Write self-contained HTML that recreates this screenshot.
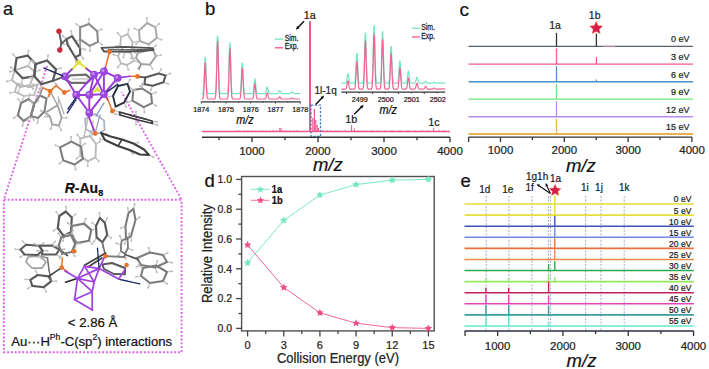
<!DOCTYPE html>
<html><head><meta charset="utf-8"><style>
html,body{margin:0;padding:0;background:#fff;width:709px;height:369px;overflow:hidden}
svg{display:block}
text{font-family:"Liberation Sans", sans-serif}
</style></head><body>
<svg width="709" height="369" viewBox="0 0 709 369">
<rect width="709" height="369" fill="#fff"/>
<text x="3.10" y="14.90" font-size="18.2" text-anchor="start" fill="#111" stroke="#111" stroke-width="0.22" font-weight="normal" font-style="normal" transform="translate(3.10 14.90) scale(1.0 1.02) translate(-3.10 -14.90)" >a</text>
<polyline points="47,66 3.8,199.7 181.6,199.7 121.5,92" fill="none" stroke="#e060e8" stroke-width="1.9" stroke-dasharray="1.9,1.9"/>
<polyline points="3.8,199.7 3.8,352.2 181.6,352.2 181.6,199.7" fill="none" stroke="#e060e8" stroke-width="1.9" stroke-dasharray="1.9,1.9"/>
<line x1="14.16" y1="69.72" x2="11.14" y2="67.41" stroke="#c4c4c4" stroke-width="1.3" stroke-linecap="round" />
<circle cx="10.82" cy="67.17" r="1.05" fill="#bcbcbc"/>
<line x1="28.53" y1="65.27" x2="30.10" y2="61.81" stroke="#c4c4c4" stroke-width="1.3" stroke-linecap="round" />
<circle cx="30.27" cy="61.45" r="1.05" fill="#bcbcbc"/>
<line x1="35.74" y1="71.70" x2="39.27" y2="70.28" stroke="#c4c4c4" stroke-width="1.3" stroke-linecap="round" />
<circle cx="39.64" cy="70.13" r="1.05" fill="#bcbcbc"/>
<line x1="30.50" y1="85.62" x2="32.88" y2="88.59" stroke="#c4c4c4" stroke-width="1.3" stroke-linecap="round" />
<circle cx="33.13" cy="88.90" r="1.05" fill="#bcbcbc"/>
<line x1="19.75" y1="87.76" x2="18.58" y2="91.38" stroke="#c4c4c4" stroke-width="1.3" stroke-linecap="round" />
<circle cx="18.46" cy="91.76" r="1.05" fill="#bcbcbc"/>
<line x1="11.23" y1="80.22" x2="7.58" y2="81.29" stroke="#c4c4c4" stroke-width="1.3" stroke-linecap="round" />
<circle cx="7.20" cy="81.40" r="1.05" fill="#bcbcbc"/>
<polygon points="14.80,70.20 28.20,66.00 35.00,72.00 30.00,85.00 20.00,87.00 12.00,80.00" fill="none" stroke="#b8b8b8" stroke-width="1.85" stroke-linejoin="round"/>
<line x1="16.53" y1="83.26" x2="13.37" y2="81.15" stroke="#c4c4c4" stroke-width="1.3" stroke-linecap="round" />
<circle cx="13.04" cy="80.93" r="1.05" fill="#bcbcbc"/>
<line x1="30.03" y1="86.81" x2="33.05" y2="84.50" stroke="#c4c4c4" stroke-width="1.3" stroke-linecap="round" />
<circle cx="33.37" cy="84.26" r="1.05" fill="#bcbcbc"/>
<line x1="38.63" y1="83.96" x2="42.07" y2="82.36" stroke="#c4c4c4" stroke-width="1.3" stroke-linecap="round" />
<circle cx="42.43" cy="82.19" r="1.05" fill="#bcbcbc"/>
<line x1="34.66" y1="95.45" x2="37.80" y2="97.59" stroke="#c4c4c4" stroke-width="1.3" stroke-linecap="round" />
<circle cx="38.13" cy="97.82" r="1.05" fill="#bcbcbc"/>
<line x1="23.73" y1="96.75" x2="22.45" y2="100.33" stroke="#c4c4c4" stroke-width="1.3" stroke-linecap="round" />
<circle cx="22.31" cy="100.71" r="1.05" fill="#bcbcbc"/>
<line x1="14.22" y1="92.16" x2="10.49" y2="92.91" stroke="#c4c4c4" stroke-width="1.3" stroke-linecap="round" />
<circle cx="10.10" cy="92.99" r="1.05" fill="#bcbcbc"/>
<polygon points="17.20,83.70 29.40,87.30 37.90,84.30 34.00,95.00 24.00,96.00 15.00,92.00" fill="none" stroke="#b8b8b8" stroke-width="1.75" stroke-linejoin="round"/>
<line x1="120.49" y1="36.38" x2="118.06" y2="33.46" stroke="#c4c4c4" stroke-width="1.3" stroke-linecap="round" />
<circle cx="117.81" cy="33.15" r="1.05" fill="#bcbcbc"/>
<line x1="127.93" y1="33.41" x2="128.54" y2="29.66" stroke="#c4c4c4" stroke-width="1.3" stroke-linecap="round" />
<circle cx="128.61" cy="29.27" r="1.05" fill="#bcbcbc"/>
<line x1="133.29" y1="42.27" x2="137.04" y2="41.68" stroke="#c4c4c4" stroke-width="1.3" stroke-linecap="round" />
<circle cx="137.44" cy="41.62" r="1.05" fill="#bcbcbc"/>
<line x1="132.35" y1="49.68" x2="134.99" y2="52.41" stroke="#c4c4c4" stroke-width="1.3" stroke-linecap="round" />
<circle cx="135.27" cy="52.70" r="1.05" fill="#bcbcbc"/>
<line x1="124.24" y1="53.28" x2="123.46" y2="57.00" stroke="#c4c4c4" stroke-width="1.3" stroke-linecap="round" />
<circle cx="123.38" cy="57.39" r="1.05" fill="#bcbcbc"/>
<line x1="119.53" y1="45.32" x2="115.88" y2="46.37" stroke="#c4c4c4" stroke-width="1.3" stroke-linecap="round" />
<circle cx="115.49" cy="46.48" r="1.05" fill="#bcbcbc"/>
<polygon points="121.00,37.00 127.80,34.20 132.50,42.40 131.80,49.10 124.40,52.50 120.30,45.10" fill="none" stroke="#b8b8b8" stroke-width="1.85" stroke-linejoin="round"/>
<line x1="119.84" y1="50.54" x2="117.68" y2="47.42" stroke="#c4c4c4" stroke-width="1.3" stroke-linecap="round" />
<circle cx="117.45" cy="47.09" r="1.05" fill="#bcbcbc"/>
<line x1="131.05" y1="51.92" x2="133.68" y2="49.17" stroke="#c4c4c4" stroke-width="1.3" stroke-linecap="round" />
<circle cx="133.95" cy="48.89" r="1.05" fill="#bcbcbc"/>
<line x1="134.67" y1="60.92" x2="138.32" y2="61.99" stroke="#c4c4c4" stroke-width="1.3" stroke-linecap="round" />
<circle cx="138.70" cy="62.10" r="1.05" fill="#bcbcbc"/>
<line x1="127.21" y1="65.77" x2="128.22" y2="69.44" stroke="#c4c4c4" stroke-width="1.3" stroke-linecap="round" />
<circle cx="128.32" cy="69.82" r="1.05" fill="#bcbcbc"/>
<line x1="120.51" y1="64.03" x2="118.17" y2="67.02" stroke="#c4c4c4" stroke-width="1.3" stroke-linecap="round" />
<circle cx="117.92" cy="67.34" r="1.05" fill="#bcbcbc"/>
<line x1="117.23" y1="55.77" x2="113.59" y2="54.68" stroke="#c4c4c4" stroke-width="1.3" stroke-linecap="round" />
<circle cx="113.21" cy="54.56" r="1.05" fill="#bcbcbc"/>
<polygon points="120.30,51.20 130.50,52.50 133.90,60.70 127.00,65.00 121.00,63.40 118.00,56.00" fill="none" stroke="#b8b8b8" stroke-width="1.85" stroke-linejoin="round"/>
<line x1="138.26" y1="30.10" x2="134.73" y2="28.68" stroke="#c4c4c4" stroke-width="1.3" stroke-linecap="round" />
<circle cx="134.36" cy="28.53" r="1.05" fill="#bcbcbc"/>
<line x1="147.15" y1="22.30" x2="146.93" y2="18.51" stroke="#c4c4c4" stroke-width="1.3" stroke-linecap="round" />
<circle cx="146.91" cy="18.11" r="1.05" fill="#bcbcbc"/>
<line x1="155.89" y1="26.66" x2="158.71" y2="24.11" stroke="#c4c4c4" stroke-width="1.3" stroke-linecap="round" />
<circle cx="159.00" cy="23.84" r="1.05" fill="#bcbcbc"/>
<line x1="157.64" y1="38.11" x2="161.14" y2="39.59" stroke="#c4c4c4" stroke-width="1.3" stroke-linecap="round" />
<circle cx="161.51" cy="39.75" r="1.05" fill="#bcbcbc"/>
<line x1="148.87" y1="45.10" x2="149.23" y2="48.88" stroke="#c4c4c4" stroke-width="1.3" stroke-linecap="round" />
<circle cx="149.27" cy="49.28" r="1.05" fill="#bcbcbc"/>
<line x1="139.20" y1="41.53" x2="136.34" y2="44.03" stroke="#c4c4c4" stroke-width="1.3" stroke-linecap="round" />
<circle cx="136.04" cy="44.29" r="1.05" fill="#bcbcbc"/>
<polygon points="139.00,30.40 147.20,23.10 155.30,27.20 156.90,37.80 148.80,44.30 139.80,41.00" fill="none" stroke="#a8a8a8" stroke-width="1.95" stroke-linejoin="round"/>
<line x1="137.00" y1="52.71" x2="133.68" y2="50.86" stroke="#c4c4c4" stroke-width="1.3" stroke-linecap="round" />
<circle cx="133.33" cy="50.67" r="1.05" fill="#bcbcbc"/>
<line x1="153.12" y1="48.49" x2="155.56" y2="45.58" stroke="#c4c4c4" stroke-width="1.3" stroke-linecap="round" />
<circle cx="155.82" cy="45.28" r="1.05" fill="#bcbcbc"/>
<line x1="156.79" y1="55.89" x2="160.56" y2="55.36" stroke="#c4c4c4" stroke-width="1.3" stroke-linecap="round" />
<circle cx="160.95" cy="55.31" r="1.05" fill="#bcbcbc"/>
<line x1="150.32" y1="65.28" x2="152.29" y2="68.53" stroke="#c4c4c4" stroke-width="1.3" stroke-linecap="round" />
<circle cx="152.50" cy="68.87" r="1.05" fill="#bcbcbc"/>
<line x1="140.65" y1="64.66" x2="138.51" y2="67.80" stroke="#c4c4c4" stroke-width="1.3" stroke-linecap="round" />
<circle cx="138.29" cy="68.13" r="1.05" fill="#bcbcbc"/>
<line x1="135.20" y1="58.04" x2="131.41" y2="58.26" stroke="#c4c4c4" stroke-width="1.3" stroke-linecap="round" />
<circle cx="131.01" cy="58.28" r="1.05" fill="#bcbcbc"/>
<polygon points="137.70,53.10 152.60,49.10 156.00,56.00 149.90,64.60 141.10,64.00 136.00,58.00" fill="none" stroke="#a0a0a0" stroke-width="1.85" stroke-linejoin="round"/>
<polygon points="85.00,119.00 95.00,114.00 104.00,120.40 104.60,130.00 95.00,135.00 86.00,129.00" fill="none" stroke="#a8b2c8" stroke-width="1.75" stroke-linejoin="round"/>
<line x1="79.81" y1="137.77" x2="77.48" y2="134.77" stroke="#c4c4c4" stroke-width="1.3" stroke-linecap="round" />
<circle cx="77.23" cy="134.45" r="1.05" fill="#bcbcbc"/>
<line x1="90.10" y1="135.21" x2="90.60" y2="131.44" stroke="#c4c4c4" stroke-width="1.3" stroke-linecap="round" />
<circle cx="90.65" cy="131.04" r="1.05" fill="#bcbcbc"/>
<line x1="96.68" y1="143.58" x2="99.91" y2="141.58" stroke="#c4c4c4" stroke-width="1.3" stroke-linecap="round" />
<circle cx="100.25" cy="141.37" r="1.05" fill="#bcbcbc"/>
<line x1="96.01" y1="158.02" x2="98.43" y2="160.94" stroke="#c4c4c4" stroke-width="1.3" stroke-linecap="round" />
<circle cx="98.69" cy="161.25" r="1.05" fill="#bcbcbc"/>
<line x1="87.87" y1="162.00" x2="87.74" y2="165.80" stroke="#c4c4c4" stroke-width="1.3" stroke-linecap="round" />
<circle cx="87.73" cy="166.20" r="1.05" fill="#bcbcbc"/>
<line x1="79.69" y1="156.01" x2="76.78" y2="158.46" stroke="#c4c4c4" stroke-width="1.3" stroke-linecap="round" />
<circle cx="76.47" cy="158.72" r="1.05" fill="#bcbcbc"/>
<polygon points="80.30,138.40 90.00,136.00 96.00,144.00 95.50,157.40 87.90,161.20 80.30,155.50" fill="none" stroke="#b8b8b8" stroke-width="1.85" stroke-linejoin="round"/>
<line x1="88.40" y1="115.70" x2="84.00" y2="137.00" stroke="#b8b8b8" stroke-width="1.4" stroke-linecap="round" />
<line x1="93.00" y1="120.00" x2="92.00" y2="136.00" stroke="#c0c0c0" stroke-width="1.3" stroke-linecap="round" />
<line x1="57.71" y1="104.53" x2="58.72" y2="100.87" stroke="#c4c4c4" stroke-width="1.3" stroke-linecap="round" />
<circle cx="58.83" cy="100.48" r="1.05" fill="#bcbcbc"/>
<line x1="62.40" y1="117.55" x2="66.19" y2="117.77" stroke="#c4c4c4" stroke-width="1.3" stroke-linecap="round" />
<circle cx="66.59" cy="117.79" r="1.05" fill="#bcbcbc"/>
<line x1="59.28" y1="126.40" x2="61.08" y2="129.75" stroke="#c4c4c4" stroke-width="1.3" stroke-linecap="round" />
<circle cx="61.27" cy="130.10" r="1.05" fill="#bcbcbc"/>
<line x1="51.87" y1="125.07" x2="50.79" y2="128.71" stroke="#c4c4c4" stroke-width="1.3" stroke-linecap="round" />
<circle cx="50.68" cy="129.09" r="1.05" fill="#bcbcbc"/>
<line x1="49.30" y1="116.75" x2="45.51" y2="116.51" stroke="#c4c4c4" stroke-width="1.3" stroke-linecap="round" />
<circle cx="45.11" cy="116.48" r="1.05" fill="#bcbcbc"/>
<line x1="44.58" y1="112.46" x2="41.15" y2="110.82" stroke="#c4c4c4" stroke-width="1.3" stroke-linecap="round" />
<circle cx="40.79" cy="110.65" r="1.05" fill="#bcbcbc"/>
<polygon points="57.50,105.30 61.60,117.50 58.90,125.70 52.10,124.30 50.10,116.80 45.30,112.80" fill="none" stroke="#a0a0a0" stroke-width="1.85" stroke-linejoin="round"/>
<line x1="20.62" y1="102.46" x2="18.37" y2="99.40" stroke="#c4c4c4" stroke-width="1.3" stroke-linecap="round" />
<circle cx="18.13" cy="99.08" r="1.05" fill="#bcbcbc"/>
<line x1="28.68" y1="98.32" x2="29.54" y2="94.62" stroke="#c4c4c4" stroke-width="1.3" stroke-linecap="round" />
<circle cx="29.64" cy="94.23" r="1.05" fill="#bcbcbc"/>
<line x1="34.75" y1="103.43" x2="37.83" y2="101.20" stroke="#c4c4c4" stroke-width="1.3" stroke-linecap="round" />
<circle cx="38.15" cy="100.97" r="1.05" fill="#bcbcbc"/>
<line x1="31.39" y1="116.73" x2="33.70" y2="119.75" stroke="#c4c4c4" stroke-width="1.3" stroke-linecap="round" />
<circle cx="33.95" cy="120.06" r="1.05" fill="#bcbcbc"/>
<line x1="23.43" y1="121.78" x2="22.63" y2="125.50" stroke="#c4c4c4" stroke-width="1.3" stroke-linecap="round" />
<circle cx="22.55" cy="125.89" r="1.05" fill="#bcbcbc"/>
<line x1="17.24" y1="115.75" x2="14.10" y2="117.90" stroke="#c4c4c4" stroke-width="1.3" stroke-linecap="round" />
<circle cx="13.77" cy="118.12" r="1.05" fill="#bcbcbc"/>
<polygon points="21.10,103.10 28.50,99.10 34.10,103.90 30.90,116.10 23.60,121.00 17.90,115.30" fill="none" stroke="#7c7c7c" stroke-width="2.15" stroke-linejoin="round"/>
<line x1="33.44" y1="103.45" x2="30.30" y2="101.30" stroke="#c4c4c4" stroke-width="1.3" stroke-linecap="round" />
<circle cx="29.97" cy="101.08" r="1.05" fill="#bcbcbc"/>
<line x1="40.07" y1="94.70" x2="40.39" y2="90.92" stroke="#c4c4c4" stroke-width="1.3" stroke-linecap="round" />
<circle cx="40.42" cy="90.52" r="1.05" fill="#bcbcbc"/>
<line x1="47.02" y1="97.89" x2="49.49" y2="95.01" stroke="#c4c4c4" stroke-width="1.3" stroke-linecap="round" />
<circle cx="49.75" cy="94.70" r="1.05" fill="#bcbcbc"/>
<line x1="45.13" y1="111.99" x2="48.14" y2="114.31" stroke="#c4c4c4" stroke-width="1.3" stroke-linecap="round" />
<circle cx="48.46" cy="114.56" r="1.05" fill="#bcbcbc"/>
<line x1="37.93" y1="118.80" x2="37.57" y2="122.58" stroke="#c4c4c4" stroke-width="1.3" stroke-linecap="round" />
<circle cx="37.54" cy="122.98" r="1.05" fill="#bcbcbc"/>
<line x1="30.36" y1="116.69" x2="27.79" y2="119.49" stroke="#c4c4c4" stroke-width="1.3" stroke-linecap="round" />
<circle cx="27.52" cy="119.79" r="1.05" fill="#bcbcbc"/>
<polygon points="34.10,103.90 40.00,95.50 46.50,98.50 44.50,111.50 38.00,118.00 30.90,116.10" fill="none" stroke="#808080" stroke-width="2.05" stroke-linejoin="round"/>
<line x1="40.00" y1="95.50" x2="42.60" y2="87.70" stroke="#909090" stroke-width="1.5" stroke-linecap="round" />
<line x1="50.10" y1="91.10" x2="57.50" y2="105.30" stroke="#a0a0a0" stroke-width="1.4" stroke-linecap="round" />
<line x1="58.00" y1="97.00" x2="64.00" y2="114.00" stroke="#b0b0b0" stroke-width="1.3" stroke-linecap="round" />
<line x1="16.05" y1="57.42" x2="13.42" y2="54.67" stroke="#c4c4c4" stroke-width="1.3" stroke-linecap="round" />
<circle cx="13.15" cy="54.38" r="1.05" fill="#bcbcbc"/>
<line x1="27.76" y1="54.82" x2="28.52" y2="51.09" stroke="#c4c4c4" stroke-width="1.3" stroke-linecap="round" />
<circle cx="28.60" cy="50.70" r="1.05" fill="#bcbcbc"/>
<line x1="36.27" y1="63.88" x2="39.92" y2="62.82" stroke="#c4c4c4" stroke-width="1.3" stroke-linecap="round" />
<circle cx="40.30" cy="62.71" r="1.05" fill="#bcbcbc"/>
<line x1="34.86" y1="76.87" x2="37.52" y2="79.59" stroke="#c4c4c4" stroke-width="1.3" stroke-linecap="round" />
<circle cx="37.80" cy="79.87" r="1.05" fill="#bcbcbc"/>
<line x1="22.52" y1="78.98" x2="21.67" y2="82.68" stroke="#c4c4c4" stroke-width="1.3" stroke-linecap="round" />
<circle cx="21.58" cy="83.07" r="1.05" fill="#bcbcbc"/>
<line x1="14.03" y1="70.43" x2="10.39" y2="71.52" stroke="#c4c4c4" stroke-width="1.3" stroke-linecap="round" />
<circle cx="10.01" cy="71.64" r="1.05" fill="#bcbcbc"/>
<polygon points="16.60,58.00 27.60,55.60 35.50,64.10 34.30,76.30 22.70,78.20 14.80,70.20" fill="none" stroke="#5a5a5a" stroke-width="2.25" stroke-linejoin="round"/>
<line x1="34.92" y1="63.55" x2="32.14" y2="60.96" stroke="#c4c4c4" stroke-width="1.3" stroke-linecap="round" />
<circle cx="31.85" cy="60.68" r="1.05" fill="#bcbcbc"/>
<line x1="47.27" y1="59.72" x2="48.05" y2="56.00" stroke="#c4c4c4" stroke-width="1.3" stroke-linecap="round" />
<circle cx="48.13" cy="55.61" r="1.05" fill="#bcbcbc"/>
<line x1="56.77" y1="69.19" x2="60.43" y2="68.17" stroke="#c4c4c4" stroke-width="1.3" stroke-linecap="round" />
<circle cx="60.82" cy="68.07" r="1.05" fill="#bcbcbc"/>
<line x1="53.37" y1="81.37" x2="56.06" y2="84.05" stroke="#c4c4c4" stroke-width="1.3" stroke-linecap="round" />
<circle cx="56.34" cy="84.33" r="1.05" fill="#bcbcbc"/>
<line x1="41.40" y1="85.08" x2="40.48" y2="88.76" stroke="#c4c4c4" stroke-width="1.3" stroke-linecap="round" />
<circle cx="40.38" cy="89.15" r="1.05" fill="#bcbcbc"/>
<line x1="33.55" y1="76.57" x2="29.98" y2="77.87" stroke="#c4c4c4" stroke-width="1.3" stroke-linecap="round" />
<circle cx="29.60" cy="78.01" r="1.05" fill="#bcbcbc"/>
<polygon points="35.50,64.10 47.10,60.50 56.00,69.40 52.80,80.80 41.60,84.30 34.30,76.30" fill="none" stroke="#5a5a5a" stroke-width="2.25" stroke-linejoin="round"/>
<line x1="52.80" y1="80.80" x2="64.90" y2="76.30" stroke="#5a5a5a" stroke-width="1.8" stroke-linecap="round" />
<line x1="79.50" y1="26.68" x2="76.62" y2="24.19" stroke="#c4c4c4" stroke-width="1.3" stroke-linecap="round" />
<circle cx="76.32" cy="23.93" r="1.05" fill="#bcbcbc"/>
<line x1="89.00" y1="23.20" x2="88.99" y2="19.40" stroke="#c4c4c4" stroke-width="1.3" stroke-linecap="round" />
<circle cx="88.98" cy="19.00" r="1.05" fill="#bcbcbc"/>
<line x1="97.93" y1="30.97" x2="101.40" y2="29.43" stroke="#c4c4c4" stroke-width="1.3" stroke-linecap="round" />
<circle cx="101.77" cy="29.27" r="1.05" fill="#bcbcbc"/>
<line x1="98.64" y1="42.29" x2="101.65" y2="44.60" stroke="#c4c4c4" stroke-width="1.3" stroke-linecap="round" />
<circle cx="101.97" cy="44.84" r="1.05" fill="#bcbcbc"/>
<line x1="89.86" y1="46.70" x2="90.12" y2="50.49" stroke="#c4c4c4" stroke-width="1.3" stroke-linecap="round" />
<circle cx="90.15" cy="50.89" r="1.05" fill="#bcbcbc"/>
<line x1="79.38" y1="39.76" x2="75.99" y2="41.46" stroke="#c4c4c4" stroke-width="1.3" stroke-linecap="round" />
<circle cx="75.63" cy="41.64" r="1.05" fill="#bcbcbc"/>
<polygon points="80.10,27.20 89.00,24.00 97.20,31.30 98.00,41.80 89.80,45.90 80.10,39.40" fill="none" stroke="#8a8a8a" stroke-width="2.05" stroke-linejoin="round"/>
<line x1="65.74" y1="38.83" x2="63.08" y2="36.12" stroke="#c4c4c4" stroke-width="1.3" stroke-linecap="round" />
<circle cx="62.80" cy="35.83" r="1.05" fill="#bcbcbc"/>
<line x1="71.88" y1="35.31" x2="71.32" y2="31.55" stroke="#c4c4c4" stroke-width="1.3" stroke-linecap="round" />
<circle cx="71.26" cy="31.15" r="1.05" fill="#bcbcbc"/>
<line x1="80.88" y1="48.48" x2="84.59" y2="49.31" stroke="#c4c4c4" stroke-width="1.3" stroke-linecap="round" />
<circle cx="84.98" cy="49.40" r="1.05" fill="#bcbcbc"/>
<line x1="80.61" y1="55.42" x2="83.01" y2="58.36" stroke="#c4c4c4" stroke-width="1.3" stroke-linecap="round" />
<circle cx="83.26" cy="58.67" r="1.05" fill="#bcbcbc"/>
<line x1="75.32" y1="58.09" x2="75.90" y2="61.85" stroke="#c4c4c4" stroke-width="1.3" stroke-linecap="round" />
<circle cx="75.96" cy="62.24" r="1.05" fill="#bcbcbc"/>
<line x1="67.13" y1="44.87" x2="63.50" y2="43.76" stroke="#c4c4c4" stroke-width="1.3" stroke-linecap="round" />
<circle cx="63.12" cy="43.65" r="1.05" fill="#bcbcbc"/>
<polygon points="66.30,39.40 72.00,36.10 80.10,48.30 80.10,54.80 75.20,57.30 67.90,45.10" fill="none" stroke="#5a5a5a" stroke-width="2.15" stroke-linejoin="round"/>
<line x1="80.10" y1="48.30" x2="80.10" y2="39.40" stroke="#8a8a8a" stroke-width="1.6" stroke-linecap="round" />
<line x1="66.30" y1="39.40" x2="61.40" y2="43.50" stroke="#5a5a5a" stroke-width="1.8" stroke-linecap="round" />
<line x1="61.40" y1="43.50" x2="59.00" y2="31.30" stroke="#5a5a5a" stroke-width="1.8" stroke-linecap="round" />
<line x1="61.40" y1="43.50" x2="59.80" y2="50.00" stroke="#5a5a5a" stroke-width="1.8" stroke-linecap="round" />
<circle cx="59.00" cy="31.30" r="2.7" fill="#c8283a"/>
<circle cx="59.80" cy="50.00" r="2.7" fill="#c8283a"/>
<line x1="75.20" y1="57.30" x2="78.70" y2="62.40" stroke="#5a5a5a" stroke-width="1.8" stroke-linecap="round" />
<polygon points="101.40,47.80 125.00,46.80 152.60,48.20 153.50,50.00 130.00,51.50 104.00,51.50" fill="none" stroke="#505050" stroke-width="1.85" stroke-linejoin="round"/>
<line x1="108.00" y1="49.50" x2="150.00" y2="49.50" stroke="#666" stroke-width="1.0" stroke-linecap="round" />
<line x1="144.42" y1="77.32" x2="140.72" y2="76.45" stroke="#c4c4c4" stroke-width="1.3" stroke-linecap="round" />
<circle cx="140.33" cy="76.36" r="1.05" fill="#bcbcbc"/>
<line x1="159.11" y1="72.81" x2="161.03" y2="69.53" stroke="#c4c4c4" stroke-width="1.3" stroke-linecap="round" />
<circle cx="161.23" cy="69.19" r="1.05" fill="#bcbcbc"/>
<line x1="166.24" y1="75.20" x2="169.76" y2="73.76" stroke="#c4c4c4" stroke-width="1.3" stroke-linecap="round" />
<circle cx="170.13" cy="73.61" r="1.05" fill="#bcbcbc"/>
<line x1="164.27" y1="82.53" x2="167.91" y2="83.60" stroke="#c4c4c4" stroke-width="1.3" stroke-linecap="round" />
<circle cx="168.30" cy="83.71" r="1.05" fill="#bcbcbc"/>
<line x1="152.30" y1="86.44" x2="150.87" y2="89.96" stroke="#c4c4c4" stroke-width="1.3" stroke-linecap="round" />
<circle cx="150.72" cy="90.33" r="1.05" fill="#bcbcbc"/>
<line x1="143.76" y1="84.62" x2="140.27" y2="86.11" stroke="#c4c4c4" stroke-width="1.3" stroke-linecap="round" />
<circle cx="139.90" cy="86.27" r="1.05" fill="#bcbcbc"/>
<polygon points="145.20,77.50 158.70,73.50 165.50,75.50 163.50,82.30 152.60,85.70 144.50,84.30" fill="none" stroke="#5a5a5a" stroke-width="2.15" stroke-linejoin="round"/>
<line x1="137.70" y1="76.80" x2="145.20" y2="77.50" stroke="#454545" stroke-width="1.6" stroke-linecap="round" />
<line x1="139.00" y1="69.40" x2="141.10" y2="64.00" stroke="#909090" stroke-width="1.5" stroke-linecap="round" />
<line x1="132.67" y1="89.50" x2="129.70" y2="87.14" stroke="#c4c4c4" stroke-width="1.3" stroke-linecap="round" />
<circle cx="129.38" cy="86.89" r="1.05" fill="#bcbcbc"/>
<line x1="142.18" y1="87.70" x2="142.06" y2="83.90" stroke="#c4c4c4" stroke-width="1.3" stroke-linecap="round" />
<circle cx="142.05" cy="83.50" r="1.05" fill="#bcbcbc"/>
<line x1="151.85" y1="93.82" x2="155.42" y2="92.52" stroke="#c4c4c4" stroke-width="1.3" stroke-linecap="round" />
<circle cx="155.79" cy="92.38" r="1.05" fill="#bcbcbc"/>
<line x1="152.68" y1="103.52" x2="155.92" y2="105.50" stroke="#c4c4c4" stroke-width="1.3" stroke-linecap="round" />
<circle cx="156.26" cy="105.71" r="1.05" fill="#bcbcbc"/>
<line x1="143.91" y1="107.99" x2="144.41" y2="111.76" stroke="#c4c4c4" stroke-width="1.3" stroke-linecap="round" />
<circle cx="144.47" cy="112.16" r="1.05" fill="#bcbcbc"/>
<line x1="131.64" y1="100.96" x2="128.05" y2="102.18" stroke="#c4c4c4" stroke-width="1.3" stroke-linecap="round" />
<circle cx="127.67" cy="102.31" r="1.05" fill="#bcbcbc"/>
<polygon points="133.30,90.00 142.20,88.50 151.10,94.10 152.00,103.10 143.80,107.20 132.40,100.70" fill="none" stroke="#7c7c7c" stroke-width="2.05" stroke-linejoin="round"/>
<line x1="59.28" y1="147.05" x2="55.85" y2="145.42" stroke="#c4c4c4" stroke-width="1.3" stroke-linecap="round" />
<circle cx="55.49" cy="145.24" r="1.05" fill="#bcbcbc"/>
<line x1="71.34" y1="140.90" x2="71.08" y2="137.11" stroke="#c4c4c4" stroke-width="1.3" stroke-linecap="round" />
<circle cx="71.05" cy="136.71" r="1.05" fill="#bcbcbc"/>
<line x1="81.74" y1="146.12" x2="84.79" y2="143.85" stroke="#c4c4c4" stroke-width="1.3" stroke-linecap="round" />
<circle cx="85.11" cy="143.61" r="1.05" fill="#bcbcbc"/>
<line x1="83.51" y1="159.17" x2="86.87" y2="160.94" stroke="#c4c4c4" stroke-width="1.3" stroke-linecap="round" />
<circle cx="87.23" cy="161.12" r="1.05" fill="#bcbcbc"/>
<line x1="74.77" y1="165.28" x2="75.56" y2="169.00" stroke="#c4c4c4" stroke-width="1.3" stroke-linecap="round" />
<circle cx="75.64" cy="169.39" r="1.05" fill="#bcbcbc"/>
<line x1="62.68" y1="160.90" x2="59.72" y2="163.29" stroke="#c4c4c4" stroke-width="1.3" stroke-linecap="round" />
<circle cx="59.41" cy="163.54" r="1.05" fill="#bcbcbc"/>
<polygon points="60.00,147.40 71.40,141.70 81.10,146.60 82.80,158.80 74.60,164.50 63.30,160.40" fill="none" stroke="#7c7c7c" stroke-width="2.05" stroke-linejoin="round"/>
<line x1="118.74" y1="111.94" x2="115.16" y2="110.69" stroke="#c4c4c4" stroke-width="1.3" stroke-linecap="round" />
<circle cx="114.78" cy="110.55" r="1.05" fill="#bcbcbc"/>
<line x1="136.00" y1="115.70" x2="136.00" y2="111.90" stroke="#c4c4c4" stroke-width="1.3" stroke-linecap="round" />
<circle cx="136.00" cy="111.50" r="1.05" fill="#bcbcbc"/>
<line x1="152.79" y1="121.15" x2="156.52" y2="121.86" stroke="#c4c4c4" stroke-width="1.3" stroke-linecap="round" />
<circle cx="156.91" cy="121.94" r="1.05" fill="#bcbcbc"/>
<line x1="153.26" y1="123.76" x2="156.86" y2="124.97" stroke="#c4c4c4" stroke-width="1.3" stroke-linecap="round" />
<circle cx="157.24" cy="125.09" r="1.05" fill="#bcbcbc"/>
<line x1="136.00" y1="120.30" x2="136.00" y2="124.10" stroke="#c4c4c4" stroke-width="1.3" stroke-linecap="round" />
<circle cx="136.00" cy="124.50" r="1.05" fill="#bcbcbc"/>
<line x1="119.21" y1="114.85" x2="115.48" y2="114.17" stroke="#c4c4c4" stroke-width="1.3" stroke-linecap="round" />
<circle cx="115.08" cy="114.09" r="1.05" fill="#bcbcbc"/>
<polygon points="119.50,112.20 136.00,116.50 152.00,121.00 152.50,123.50 136.00,119.50 120.00,115.00" fill="none" stroke="#3a3a3a" stroke-width="1.75" stroke-linejoin="round"/>
<line x1="117.70" y1="85.26" x2="116.27" y2="81.74" stroke="#c4c4c4" stroke-width="1.3" stroke-linecap="round" />
<circle cx="116.12" cy="81.37" r="1.05" fill="#bcbcbc"/>
<line x1="127.90" y1="83.21" x2="129.81" y2="79.92" stroke="#c4c4c4" stroke-width="1.3" stroke-linecap="round" />
<circle cx="130.01" cy="79.58" r="1.05" fill="#bcbcbc"/>
<line x1="130.76" y1="91.25" x2="134.36" y2="90.04" stroke="#c4c4c4" stroke-width="1.3" stroke-linecap="round" />
<circle cx="134.74" cy="89.91" r="1.05" fill="#bcbcbc"/>
<line x1="124.58" y1="103.05" x2="125.88" y2="106.62" stroke="#c4c4c4" stroke-width="1.3" stroke-linecap="round" />
<circle cx="126.02" cy="106.99" r="1.05" fill="#bcbcbc"/>
<line x1="115.26" y1="107.32" x2="113.63" y2="110.76" stroke="#c4c4c4" stroke-width="1.3" stroke-linecap="round" />
<circle cx="113.46" cy="111.12" r="1.05" fill="#bcbcbc"/>
<line x1="112.21" y1="96.15" x2="108.48" y2="96.87" stroke="#c4c4c4" stroke-width="1.3" stroke-linecap="round" />
<circle cx="108.09" cy="96.94" r="1.05" fill="#bcbcbc"/>
<polygon points="118.00,86.00 127.50,83.90 130.00,91.50 124.30,102.30 115.60,106.60 113.00,96.00" fill="none" stroke="#283040" stroke-width="1.85" stroke-linejoin="round"/>
<line x1="110.01" y1="136.10" x2="106.71" y2="134.21" stroke="#c0c0c0" stroke-width="1.3" stroke-linecap="round" />
<circle cx="106.36" cy="134.01" r="1.05" fill="#bcbcbc"/>
<line x1="134.19" y1="143.35" x2="137.92" y2="142.64" stroke="#c0c0c0" stroke-width="1.3" stroke-linecap="round" />
<circle cx="138.31" cy="142.56" r="1.05" fill="#bcbcbc"/>
<line x1="149.74" y1="155.31" x2="153.23" y2="156.80" stroke="#c0c0c0" stroke-width="1.3" stroke-linecap="round" />
<circle cx="153.60" cy="156.96" r="1.05" fill="#bcbcbc"/>
<line x1="130.10" y1="150.62" x2="132.50" y2="153.57" stroke="#c0c0c0" stroke-width="1.3" stroke-linecap="round" />
<circle cx="132.75" cy="153.88" r="1.05" fill="#bcbcbc"/>
<line x1="104.22" y1="139.81" x2="100.53" y2="138.91" stroke="#c0c0c0" stroke-width="1.3" stroke-linecap="round" />
<circle cx="100.14" cy="138.82" r="1.05" fill="#bcbcbc"/>
<polygon points="101.00,133.00 110.70,136.50 122.00,139.50 133.40,143.50 144.00,149.50 149.00,155.00 140.00,154.50 129.60,150.00 118.00,146.00 105.00,140.00" fill="none" stroke="#3e3e3e" stroke-width="2.05" stroke-linejoin="round"/>
<line x1="122.00" y1="139.50" x2="118.00" y2="146.00" stroke="#3e3e3e" stroke-width="1.5" stroke-linecap="round" />
<polygon points="66.00,80.00 70.00,75.40 86.00,74.60 91.00,79.00 87.00,82.80 71.00,82.80" fill="none" stroke="#707070" stroke-width="2.25" stroke-linejoin="round"/>
<line x1="72.00" y1="79.00" x2="88.00" y2="79.00" stroke="#b0b0b0" stroke-width="1.2" stroke-linecap="round" />
<line x1="42.60" y1="87.70" x2="50.10" y2="91.10" stroke="#e8742a" stroke-width="1.6" stroke-linecap="round" />
<line x1="50.10" y1="91.10" x2="56.20" y2="85.70" stroke="#e8742a" stroke-width="1.6" stroke-linecap="round" />
<line x1="56.20" y1="85.70" x2="64.30" y2="92.50" stroke="#e8742a" stroke-width="1.6" stroke-linecap="round" />
<line x1="64.30" y1="92.50" x2="69.70" y2="90.40" stroke="#e8742a" stroke-width="1.6" stroke-linecap="round" />
<line x1="50.10" y1="91.10" x2="48.70" y2="96.50" stroke="#e8742a" stroke-width="1.6" stroke-linecap="round" />
<line x1="109.50" y1="51.80" x2="105.40" y2="67.40" stroke="#e8742a" stroke-width="1.6" stroke-linecap="round" />
<line x1="105.40" y1="67.40" x2="103.90" y2="71.40" stroke="#9a38d8" stroke-width="1.8" stroke-linecap="round" />
<line x1="130.00" y1="76.30" x2="137.30" y2="76.30" stroke="#e8742a" stroke-width="1.6" stroke-linecap="round" />
<line x1="117.70" y1="77.90" x2="130.00" y2="76.30" stroke="#9a38d8" stroke-width="1.6" stroke-linecap="round" />
<line x1="88.40" y1="115.70" x2="95.20" y2="133.30" stroke="#9a38d8" stroke-width="1.8" stroke-linecap="round" />
<line x1="104.00" y1="103.00" x2="96.00" y2="116.00" stroke="#8090c0" stroke-width="1.3" stroke-linecap="round" />
<line x1="103.90" y1="94.10" x2="108.00" y2="100.00" stroke="#c8283a" stroke-width="1.5" stroke-linecap="round" />
<line x1="108.00" y1="100.00" x2="112.40" y2="111.00" stroke="#e8742a" stroke-width="1.5" stroke-linecap="round" />
<line x1="95.00" y1="133.60" x2="100.00" y2="115.00" stroke="#9aa4c0" stroke-width="1.3" stroke-linecap="round" />
<line x1="130.00" y1="115.30" x2="146.30" y2="119.30" stroke="#454545" stroke-width="1.6" stroke-linecap="round" />
<line x1="78.70" y1="62.40" x2="71.80" y2="69.40" stroke="#dfe040" stroke-width="2.2" stroke-linecap="round" />
<line x1="78.70" y1="62.40" x2="86.40" y2="68.50" stroke="#dfe040" stroke-width="2.2" stroke-linecap="round" />
<line x1="71.80" y1="69.40" x2="64.90" y2="76.30" stroke="#9a38d8" stroke-width="2.0" stroke-linecap="round" />
<line x1="86.40" y1="68.50" x2="94.10" y2="74.60" stroke="#9a38d8" stroke-width="2.0" stroke-linecap="round" />
<line x1="97.40" y1="89.30" x2="93.30" y2="92.20" stroke="#dfe040" stroke-width="2.0" stroke-linecap="round" />
<line x1="97.40" y1="89.30" x2="100.60" y2="91.70" stroke="#dfe040" stroke-width="2.0" stroke-linecap="round" />
<line x1="64.90" y1="76.30" x2="76.30" y2="95.00" stroke="#9a38d8" stroke-width="1.9" stroke-linecap="round" />
<line x1="94.10" y1="74.60" x2="76.30" y2="95.00" stroke="#9a38d8" stroke-width="1.9" stroke-linecap="round" />
<line x1="94.10" y1="74.60" x2="89.30" y2="95.00" stroke="#9a38d8" stroke-width="1.9" stroke-linecap="round" />
<line x1="103.90" y1="71.40" x2="117.70" y2="77.90" stroke="#9a38d8" stroke-width="1.9" stroke-linecap="round" />
<line x1="117.70" y1="77.90" x2="103.90" y2="94.10" stroke="#9a38d8" stroke-width="1.9" stroke-linecap="round" />
<line x1="103.90" y1="94.10" x2="89.30" y2="112.80" stroke="#9a38d8" stroke-width="1.9" stroke-linecap="round" />
<line x1="76.30" y1="95.00" x2="89.30" y2="112.80" stroke="#9a38d8" stroke-width="1.9" stroke-linecap="round" />
<line x1="89.30" y1="95.00" x2="89.30" y2="112.80" stroke="#9a38d8" stroke-width="1.9" stroke-linecap="round" />
<line x1="76.30" y1="95.00" x2="89.30" y2="95.00" stroke="#9a38d8" stroke-width="1.9" stroke-linecap="round" />
<line x1="89.30" y1="95.00" x2="103.90" y2="94.10" stroke="#9a38d8" stroke-width="1.9" stroke-linecap="round" />
<line x1="94.10" y1="74.60" x2="103.90" y2="94.10" stroke="#9a38d8" stroke-width="1.9" stroke-linecap="round" />
<line x1="103.90" y1="71.40" x2="103.90" y2="94.10" stroke="#9a38d8" stroke-width="1.9" stroke-linecap="round" />
<line x1="94.10" y1="74.60" x2="103.90" y2="71.40" stroke="#9a38d8" stroke-width="1.9" stroke-linecap="round" />
<line x1="103.90" y1="71.40" x2="89.30" y2="95.00" stroke="#9a38d8" stroke-width="1.9" stroke-linecap="round" />
<circle cx="64.90" cy="76.30" r="3.9" fill="#9c44dc"/>
<circle cx="94.10" cy="74.60" r="3.9" fill="#9c44dc"/>
<circle cx="103.90" cy="71.40" r="3.9" fill="#9c44dc"/>
<circle cx="117.70" cy="77.90" r="3.9" fill="#9c44dc"/>
<circle cx="76.30" cy="95.00" r="3.9" fill="#9c44dc"/>
<circle cx="89.30" cy="95.00" r="3.9" fill="#9c44dc"/>
<circle cx="103.90" cy="94.10" r="3.9" fill="#9c44dc"/>
<circle cx="89.30" cy="112.80" r="3.9" fill="#9c44dc"/>
<circle cx="63.90" cy="75.30" r="1.5" fill="#c090ee"/>
<circle cx="93.10" cy="73.60" r="1.5" fill="#c090ee"/>
<circle cx="102.90" cy="70.40" r="1.5" fill="#c090ee"/>
<circle cx="116.70" cy="76.90" r="1.5" fill="#c090ee"/>
<circle cx="75.30" cy="94.00" r="1.5" fill="#c090ee"/>
<circle cx="88.30" cy="94.00" r="1.5" fill="#c090ee"/>
<circle cx="102.90" cy="93.10" r="1.5" fill="#c090ee"/>
<circle cx="88.30" cy="111.80" r="1.5" fill="#c090ee"/>
<circle cx="78.70" cy="62.40" r="2.4" fill="#dfe040"/>
<circle cx="97.40" cy="89.30" r="2.2" fill="#dfe040"/>
<circle cx="109.50" cy="51.80" r="2.4" fill="#e8742a"/>
<circle cx="137.50" cy="76.50" r="2.4" fill="#e8742a"/>
<circle cx="50.10" cy="91.10" r="2.4" fill="#e8742a"/>
<circle cx="64.30" cy="92.50" r="2.4" fill="#e8742a"/>
<circle cx="112.40" cy="111.00" r="2.4" fill="#e8742a"/>
<circle cx="95.20" cy="133.30" r="2.4" fill="#e8742a"/>
<line x1="44.00" y1="68.00" x2="63.00" y2="76.00" stroke="#1e2a66" stroke-width="1.5" stroke-linecap="round" stroke-dasharray="1.3,1.1"/>
<line x1="68.00" y1="108.80" x2="76.30" y2="97.40" stroke="#1e2a66" stroke-width="1.5" stroke-linecap="round" stroke-dasharray="1.3,1.1"/>
<line x1="107.20" y1="91.70" x2="117.70" y2="84.40" stroke="#1e2a66" stroke-width="1.5" stroke-linecap="round" stroke-dasharray="1.3,1.1"/>
<line x1="75.90" y1="99.80" x2="67.30" y2="113.00" stroke="#1e2a66" stroke-width="1.5" stroke-linecap="round" stroke-dasharray="1.3,1.1"/>
<line x1="29.50" y1="279.72" x2="25.73" y2="279.31" stroke="#c4c4c4" stroke-width="1.3" stroke-linecap="round" />
<circle cx="25.33" cy="279.27" r="1.05" fill="#bcbcbc"/>
<line x1="37.34" y1="274.29" x2="35.63" y2="270.89" stroke="#c4c4c4" stroke-width="1.3" stroke-linecap="round" />
<circle cx="35.45" cy="270.53" r="1.05" fill="#bcbcbc"/>
<line x1="49.30" y1="276.01" x2="52.60" y2="274.13" stroke="#c4c4c4" stroke-width="1.3" stroke-linecap="round" />
<circle cx="52.95" cy="273.93" r="1.05" fill="#bcbcbc"/>
<line x1="52.10" y1="281.12" x2="55.90" y2="281.19" stroke="#c4c4c4" stroke-width="1.3" stroke-linecap="round" />
<circle cx="56.30" cy="281.19" r="1.05" fill="#bcbcbc"/>
<line x1="44.16" y1="287.92" x2="45.85" y2="291.32" stroke="#c4c4c4" stroke-width="1.3" stroke-linecap="round" />
<circle cx="46.03" cy="291.68" r="1.05" fill="#bcbcbc"/>
<line x1="31.61" y1="286.31" x2="28.35" y2="288.26" stroke="#c4c4c4" stroke-width="1.3" stroke-linecap="round" />
<circle cx="28.01" cy="288.46" r="1.05" fill="#bcbcbc"/>
<polygon points="30.30,279.80 37.70,275.00 48.60,276.40 51.30,281.10 43.80,287.20 32.30,285.90" fill="none" stroke="#5a5a5a" stroke-width="2.15" stroke-linejoin="round"/>
<polygon points="28.00,257.00 40.00,256.00 46.00,262.00 42.00,268.00 32.00,268.00 26.00,262.00" fill="none" stroke="#a0a0a0" stroke-width="1.75" stroke-linejoin="round"/>
<line x1="40.00" y1="256.00" x2="47.50" y2="258.00" stroke="#909090" stroke-width="1.4" stroke-linecap="round" />
<line x1="47.50" y1="258.00" x2="49.00" y2="270.00" stroke="#707070" stroke-width="1.5" stroke-linecap="round" />
<line x1="49.00" y1="270.00" x2="51.30" y2="281.10" stroke="#707070" stroke-width="1.5" stroke-linecap="round" />
<line x1="48.60" y1="276.40" x2="61.70" y2="267.60" stroke="#454545" stroke-width="1.6" stroke-linecap="round" />
<line x1="19.60" y1="249.46" x2="15.80" y2="249.30" stroke="#c4c4c4" stroke-width="1.3" stroke-linecap="round" />
<circle cx="15.40" cy="249.28" r="1.05" fill="#bcbcbc"/>
<line x1="25.52" y1="244.15" x2="22.77" y2="241.53" stroke="#c4c4c4" stroke-width="1.3" stroke-linecap="round" />
<circle cx="22.48" cy="241.25" r="1.05" fill="#bcbcbc"/>
<line x1="39.80" y1="245.41" x2="43.10" y2="243.54" stroke="#c4c4c4" stroke-width="1.3" stroke-linecap="round" />
<circle cx="43.45" cy="243.34" r="1.05" fill="#bcbcbc"/>
<line x1="43.20" y1="250.54" x2="47.00" y2="250.71" stroke="#c4c4c4" stroke-width="1.3" stroke-linecap="round" />
<circle cx="47.39" cy="250.73" r="1.05" fill="#bcbcbc"/>
<line x1="38.11" y1="255.52" x2="40.99" y2="257.99" stroke="#c4c4c4" stroke-width="1.3" stroke-linecap="round" />
<circle cx="41.30" cy="258.25" r="1.05" fill="#bcbcbc"/>
<line x1="23.82" y1="254.93" x2="20.60" y2="256.95" stroke="#c4c4c4" stroke-width="1.3" stroke-linecap="round" />
<circle cx="20.27" cy="257.16" r="1.05" fill="#bcbcbc"/>
<polygon points="20.40,249.50 26.10,244.70 39.10,245.80 42.40,250.50 37.50,255.00 24.50,254.50" fill="none" stroke="#5a5a5a" stroke-width="2.05" stroke-linejoin="round"/>
<line x1="41.60" y1="250.56" x2="37.81" y2="250.84" stroke="#c4c4c4" stroke-width="1.3" stroke-linecap="round" />
<circle cx="37.41" cy="250.87" r="1.05" fill="#bcbcbc"/>
<line x1="38.37" y1="245.47" x2="34.91" y2="243.90" stroke="#c4c4c4" stroke-width="1.3" stroke-linecap="round" />
<circle cx="34.54" cy="243.74" r="1.05" fill="#bcbcbc"/>
<line x1="52.49" y1="244.87" x2="54.80" y2="241.85" stroke="#c4c4c4" stroke-width="1.3" stroke-linecap="round" />
<circle cx="55.05" cy="241.54" r="1.05" fill="#bcbcbc"/>
<line x1="60.30" y1="249.46" x2="64.09" y2="249.27" stroke="#c4c4c4" stroke-width="1.3" stroke-linecap="round" />
<circle cx="64.49" cy="249.25" r="1.05" fill="#bcbcbc"/>
<line x1="56.69" y1="254.91" x2="59.96" y2="256.85" stroke="#c4c4c4" stroke-width="1.3" stroke-linecap="round" />
<circle cx="60.30" cy="257.05" r="1.05" fill="#bcbcbc"/>
<line x1="41.34" y1="254.95" x2="38.20" y2="257.10" stroke="#c4c4c4" stroke-width="1.3" stroke-linecap="round" />
<circle cx="37.87" cy="257.32" r="1.05" fill="#bcbcbc"/>
<polygon points="42.40,250.50 39.10,245.80 52.00,245.50 59.50,249.50 56.00,254.50 42.00,254.50" fill="none" stroke="#5a5a5a" stroke-width="2.05" stroke-linejoin="round"/>
<line x1="59.50" y1="249.50" x2="67.50" y2="255.60" stroke="#454545" stroke-width="1.6" stroke-linecap="round" />
<line x1="58.82" y1="215.36" x2="56.55" y2="212.31" stroke="#c4c4c4" stroke-width="1.3" stroke-linecap="round" />
<circle cx="56.31" cy="211.99" r="1.05" fill="#bcbcbc"/>
<line x1="65.86" y1="210.70" x2="66.14" y2="206.91" stroke="#c4c4c4" stroke-width="1.3" stroke-linecap="round" />
<circle cx="66.17" cy="206.51" r="1.05" fill="#bcbcbc"/>
<line x1="72.40" y1="216.98" x2="75.27" y2="214.48" stroke="#c4c4c4" stroke-width="1.3" stroke-linecap="round" />
<circle cx="75.57" cy="214.22" r="1.05" fill="#bcbcbc"/>
<line x1="71.47" y1="232.65" x2="73.68" y2="235.74" stroke="#c4c4c4" stroke-width="1.3" stroke-linecap="round" />
<circle cx="73.92" cy="236.06" r="1.05" fill="#bcbcbc"/>
<line x1="63.62" y1="236.80" x2="63.26" y2="240.58" stroke="#c4c4c4" stroke-width="1.3" stroke-linecap="round" />
<circle cx="63.22" cy="240.98" r="1.05" fill="#bcbcbc"/>
<line x1="57.12" y1="228.43" x2="53.91" y2="230.46" stroke="#c4c4c4" stroke-width="1.3" stroke-linecap="round" />
<circle cx="53.58" cy="230.68" r="1.05" fill="#bcbcbc"/>
<polygon points="59.30,216.00 65.80,211.50 71.80,217.50 71.00,232.00 63.70,236.00 57.80,228.00" fill="none" stroke="#5a5a5a" stroke-width="2.15" stroke-linejoin="round"/>
<line x1="71.17" y1="225.51" x2="68.18" y2="223.16" stroke="#c4c4c4" stroke-width="1.3" stroke-linecap="round" />
<circle cx="67.87" cy="222.91" r="1.05" fill="#bcbcbc"/>
<line x1="84.27" y1="222.85" x2="85.57" y2="219.28" stroke="#c4c4c4" stroke-width="1.3" stroke-linecap="round" />
<circle cx="85.70" cy="218.90" r="1.05" fill="#bcbcbc"/>
<line x1="92.07" y1="229.89" x2="95.75" y2="228.92" stroke="#c4c4c4" stroke-width="1.3" stroke-linecap="round" />
<circle cx="96.13" cy="228.82" r="1.05" fill="#bcbcbc"/>
<line x1="89.48" y1="241.25" x2="92.26" y2="243.85" stroke="#c4c4c4" stroke-width="1.3" stroke-linecap="round" />
<circle cx="92.55" cy="244.12" r="1.05" fill="#bcbcbc"/>
<line x1="76.41" y1="243.85" x2="75.05" y2="247.39" stroke="#c4c4c4" stroke-width="1.3" stroke-linecap="round" />
<circle cx="74.90" cy="247.77" r="1.05" fill="#bcbcbc"/>
<line x1="70.21" y1="234.20" x2="66.43" y2="234.65" stroke="#c4c4c4" stroke-width="1.3" stroke-linecap="round" />
<circle cx="66.04" cy="234.70" r="1.05" fill="#bcbcbc"/>
<polygon points="71.80,226.00 84.00,223.60 91.30,230.10 88.90,240.70 76.70,243.10 71.00,234.10" fill="none" stroke="#7c7c7c" stroke-width="2.15" stroke-linejoin="round"/>
<line x1="60.82" y1="236.76" x2="58.54" y2="233.72" stroke="#c4c4c4" stroke-width="1.3" stroke-linecap="round" />
<circle cx="58.30" cy="233.40" r="1.05" fill="#bcbcbc"/>
<line x1="71.33" y1="234.27" x2="72.89" y2="230.81" stroke="#c4c4c4" stroke-width="1.3" stroke-linecap="round" />
<circle cx="73.05" cy="230.44" r="1.05" fill="#bcbcbc"/>
<line x1="75.90" y1="243.84" x2="79.68" y2="243.53" stroke="#c4c4c4" stroke-width="1.3" stroke-linecap="round" />
<circle cx="80.08" cy="243.50" r="1.05" fill="#bcbcbc"/>
<line x1="72.25" y1="252.66" x2="74.41" y2="255.79" stroke="#c4c4c4" stroke-width="1.3" stroke-linecap="round" />
<circle cx="74.64" cy="256.12" r="1.05" fill="#bcbcbc"/>
<line x1="61.74" y1="254.41" x2="60.03" y2="257.81" stroke="#c4c4c4" stroke-width="1.3" stroke-linecap="round" />
<circle cx="59.85" cy="258.17" r="1.05" fill="#bcbcbc"/>
<line x1="58.01" y1="245.59" x2="54.23" y2="246.03" stroke="#c4c4c4" stroke-width="1.3" stroke-linecap="round" />
<circle cx="53.83" cy="246.08" r="1.05" fill="#bcbcbc"/>
<polygon points="61.30,237.40 71.00,235.00 75.10,243.90 71.80,252.00 62.10,253.70 58.80,245.50" fill="none" stroke="#7c7c7c" stroke-width="2.15" stroke-linejoin="round"/>
<line x1="99.82" y1="217.10" x2="99.44" y2="213.32" stroke="#c4c4c4" stroke-width="1.3" stroke-linecap="round" />
<circle cx="99.40" cy="212.92" r="1.05" fill="#bcbcbc"/>
<line x1="105.15" y1="222.08" x2="106.83" y2="218.67" stroke="#c4c4c4" stroke-width="1.3" stroke-linecap="round" />
<circle cx="107.01" cy="218.32" r="1.05" fill="#bcbcbc"/>
<line x1="107.83" y1="235.49" x2="110.82" y2="237.84" stroke="#c4c4c4" stroke-width="1.3" stroke-linecap="round" />
<circle cx="111.13" cy="238.09" r="1.05" fill="#bcbcbc"/>
<line x1="102.38" y1="243.10" x2="102.74" y2="246.88" stroke="#c4c4c4" stroke-width="1.3" stroke-linecap="round" />
<circle cx="102.78" cy="247.28" r="1.05" fill="#bcbcbc"/>
<line x1="96.17" y1="238.08" x2="94.14" y2="241.29" stroke="#c4c4c4" stroke-width="1.3" stroke-linecap="round" />
<circle cx="93.93" cy="241.63" r="1.05" fill="#bcbcbc"/>
<line x1="95.38" y1="225.49" x2="92.45" y2="223.07" stroke="#c4c4c4" stroke-width="1.3" stroke-linecap="round" />
<circle cx="92.14" cy="222.82" r="1.05" fill="#bcbcbc"/>
<polygon points="99.90,217.90 104.80,222.80 107.20,235.00 102.30,242.30 96.60,237.40 96.00,226.00" fill="none" stroke="#5a5a5a" stroke-width="2.15" stroke-linejoin="round"/>
<line x1="102.30" y1="242.30" x2="105.60" y2="256.10" stroke="#707070" stroke-width="1.6" stroke-linecap="round" />
<line x1="128.39" y1="212.21" x2="127.87" y2="208.44" stroke="#c4c4c4" stroke-width="1.3" stroke-linecap="round" />
<circle cx="127.81" cy="208.05" r="1.05" fill="#bcbcbc"/>
<line x1="133.68" y1="208.12" x2="134.55" y2="204.42" stroke="#c4c4c4" stroke-width="1.3" stroke-linecap="round" />
<circle cx="134.64" cy="204.03" r="1.05" fill="#bcbcbc"/>
<line x1="136.16" y1="219.54" x2="139.28" y2="217.38" stroke="#c4c4c4" stroke-width="1.3" stroke-linecap="round" />
<circle cx="139.61" cy="217.15" r="1.05" fill="#bcbcbc"/>
<line x1="131.07" y1="236.80" x2="131.38" y2="240.58" stroke="#c4c4c4" stroke-width="1.3" stroke-linecap="round" />
<circle cx="131.41" cy="240.98" r="1.05" fill="#bcbcbc"/>
<line x1="125.80" y1="239.77" x2="124.83" y2="243.45" stroke="#c4c4c4" stroke-width="1.3" stroke-linecap="round" />
<circle cx="124.73" cy="243.84" r="1.05" fill="#bcbcbc"/>
<line x1="124.78" y1="226.35" x2="121.36" y2="228.01" stroke="#c4c4c4" stroke-width="1.3" stroke-linecap="round" />
<circle cx="121.00" cy="228.18" r="1.05" fill="#bcbcbc"/>
<polygon points="128.50,213.00 133.50,208.90 135.50,220.00 131.00,236.00 126.00,239.00 125.50,226.00" fill="none" stroke="#7c7c7c" stroke-width="2.05" stroke-linejoin="round"/>
<line x1="121.49" y1="239.96" x2="120.02" y2="236.46" stroke="#c4c4c4" stroke-width="1.3" stroke-linecap="round" />
<circle cx="119.87" cy="236.09" r="1.05" fill="#bcbcbc"/>
<line x1="127.81" y1="237.26" x2="129.31" y2="233.77" stroke="#c4c4c4" stroke-width="1.3" stroke-linecap="round" />
<circle cx="129.47" cy="233.40" r="1.05" fill="#bcbcbc"/>
<line x1="128.72" y1="248.35" x2="132.13" y2="250.02" stroke="#c4c4c4" stroke-width="1.3" stroke-linecap="round" />
<circle cx="132.49" cy="250.20" r="1.05" fill="#bcbcbc"/>
<line x1="125.10" y1="254.49" x2="125.57" y2="258.26" stroke="#c4c4c4" stroke-width="1.3" stroke-linecap="round" />
<circle cx="125.62" cy="258.66" r="1.05" fill="#bcbcbc"/>
<line x1="120.58" y1="251.68" x2="118.58" y2="254.91" stroke="#c4c4c4" stroke-width="1.3" stroke-linecap="round" />
<circle cx="118.37" cy="255.25" r="1.05" fill="#bcbcbc"/>
<line x1="120.24" y1="244.74" x2="116.66" y2="243.48" stroke="#c4c4c4" stroke-width="1.3" stroke-linecap="round" />
<circle cx="116.28" cy="243.35" r="1.05" fill="#bcbcbc"/>
<polygon points="121.80,240.70 127.50,238.00 128.00,248.00 125.00,253.70 121.00,251.00 121.00,245.00" fill="none" stroke="#7c7c7c" stroke-width="1.85" stroke-linejoin="round"/>
<line x1="125.00" y1="253.70" x2="124.30" y2="257.00" stroke="#7c7c7c" stroke-width="1.6" stroke-linecap="round" />
<line x1="136.21" y1="257.90" x2="132.44" y2="257.40" stroke="#c4c4c4" stroke-width="1.3" stroke-linecap="round" />
<circle cx="132.04" cy="257.35" r="1.05" fill="#bcbcbc"/>
<line x1="149.78" y1="251.73" x2="148.72" y2="248.08" stroke="#c4c4c4" stroke-width="1.3" stroke-linecap="round" />
<circle cx="148.61" cy="247.70" r="1.05" fill="#bcbcbc"/>
<line x1="163.73" y1="254.66" x2="167.18" y2="253.07" stroke="#c4c4c4" stroke-width="1.3" stroke-linecap="round" />
<circle cx="167.54" cy="252.90" r="1.05" fill="#bcbcbc"/>
<line x1="167.79" y1="262.11" x2="171.56" y2="262.61" stroke="#c4c4c4" stroke-width="1.3" stroke-linecap="round" />
<circle cx="171.96" cy="262.67" r="1.05" fill="#bcbcbc"/>
<line x1="155.28" y1="268.25" x2="156.63" y2="271.80" stroke="#c4c4c4" stroke-width="1.3" stroke-linecap="round" />
<circle cx="156.77" cy="272.18" r="1.05" fill="#bcbcbc"/>
<line x1="140.27" y1="265.33" x2="136.80" y2="266.88" stroke="#c4c4c4" stroke-width="1.3" stroke-linecap="round" />
<circle cx="136.44" cy="267.04" r="1.05" fill="#bcbcbc"/>
<polygon points="137.00,258.00 150.00,252.50 163.00,255.00 167.00,262.00 155.00,267.50 141.00,265.00" fill="none" stroke="#7c7c7c" stroke-width="2.05" stroke-linejoin="round"/>
<line x1="142.32" y1="267.59" x2="139.06" y2="265.62" stroke="#c4c4c4" stroke-width="1.3" stroke-linecap="round" />
<circle cx="138.72" cy="265.41" r="1.05" fill="#bcbcbc"/>
<line x1="156.23" y1="264.73" x2="157.34" y2="261.10" stroke="#c4c4c4" stroke-width="1.3" stroke-linecap="round" />
<circle cx="157.46" cy="260.72" r="1.05" fill="#bcbcbc"/>
<line x1="167.79" y1="271.87" x2="171.54" y2="271.25" stroke="#c4c4c4" stroke-width="1.3" stroke-linecap="round" />
<circle cx="171.93" cy="271.19" r="1.05" fill="#bcbcbc"/>
<line x1="163.66" y1="281.46" x2="166.77" y2="283.63" stroke="#c4c4c4" stroke-width="1.3" stroke-linecap="round" />
<circle cx="167.10" cy="283.86" r="1.05" fill="#bcbcbc"/>
<line x1="149.72" y1="283.75" x2="148.36" y2="287.30" stroke="#c4c4c4" stroke-width="1.3" stroke-linecap="round" />
<circle cx="148.22" cy="287.67" r="1.05" fill="#bcbcbc"/>
<line x1="140.21" y1="276.11" x2="136.45" y2="276.65" stroke="#c4c4c4" stroke-width="1.3" stroke-linecap="round" />
<circle cx="136.05" cy="276.70" r="1.05" fill="#bcbcbc"/>
<polygon points="143.00,268.00 156.00,265.50 167.00,272.00 163.00,281.00 150.00,283.00 141.00,276.00" fill="none" stroke="#7c7c7c" stroke-width="2.05" stroke-linejoin="round"/>
<polygon points="102.40,264.50 112.00,263.00 125.00,268.00 125.00,274.30 114.00,274.00 104.00,269.00" fill="none" stroke="#5a5a5a" stroke-width="1.95" stroke-linejoin="round"/>
<line x1="84.50" y1="265.30" x2="105.60" y2="253.10" stroke="#454545" stroke-width="1.8" stroke-linecap="round" />
<line x1="88.00" y1="267.00" x2="102.00" y2="258.00" stroke="#454545" stroke-width="1.8" stroke-linecap="round" />
<line x1="105.60" y1="256.10" x2="124.30" y2="257.00" stroke="#7c7c7c" stroke-width="1.8" stroke-linecap="round" />
<line x1="125.00" y1="254.50" x2="138.00" y2="259.40" stroke="#5a5a5a" stroke-width="1.8" stroke-linecap="round" />
<line x1="65.60" y1="282.30" x2="77.80" y2="278.30" stroke="#222" stroke-width="1.5" stroke-linecap="round" />
<line x1="62.40" y1="258.00" x2="61.70" y2="267.60" stroke="#e8742a" stroke-width="1.5" stroke-linecap="round" />
<line x1="61.70" y1="267.60" x2="68.00" y2="272.00" stroke="#e8742a" stroke-width="1.5" stroke-linecap="round" />
<line x1="77.50" y1="278.30" x2="84.50" y2="266.10" stroke="#a040e0" stroke-width="1.7" stroke-linecap="round" />
<line x1="77.50" y1="278.30" x2="99.10" y2="268.60" stroke="#a040e0" stroke-width="1.7" stroke-linecap="round" />
<line x1="84.50" y1="266.10" x2="99.10" y2="268.60" stroke="#a040e0" stroke-width="1.7" stroke-linecap="round" />
<line x1="84.50" y1="266.10" x2="94.20" y2="282.00" stroke="#a040e0" stroke-width="1.7" stroke-linecap="round" />
<line x1="77.50" y1="278.30" x2="94.20" y2="282.00" stroke="#a040e0" stroke-width="1.7" stroke-linecap="round" />
<line x1="99.10" y1="268.60" x2="94.20" y2="282.00" stroke="#a040e0" stroke-width="1.7" stroke-linecap="round" />
<line x1="94.20" y1="282.00" x2="92.20" y2="291.70" stroke="#a040e0" stroke-width="1.7" stroke-linecap="round" />
<line x1="77.50" y1="278.30" x2="92.20" y2="291.70" stroke="#a040e0" stroke-width="1.7" stroke-linecap="round" />
<line x1="77.50" y1="278.30" x2="74.60" y2="299.50" stroke="#a040e0" stroke-width="1.7" stroke-linecap="round" />
<line x1="74.60" y1="299.50" x2="92.20" y2="291.70" stroke="#a040e0" stroke-width="1.7" stroke-linecap="round" />
<line x1="74.60" y1="299.50" x2="92.30" y2="310.00" stroke="#a040e0" stroke-width="1.7" stroke-linecap="round" />
<line x1="92.20" y1="291.70" x2="92.30" y2="310.00" stroke="#a040e0" stroke-width="1.7" stroke-linecap="round" />
<line x1="65.00" y1="271.00" x2="77.50" y2="278.30" stroke="#a040e0" stroke-width="1.7" stroke-linecap="round" />
<line x1="104.80" y1="256.40" x2="99.10" y2="268.60" stroke="#a040e0" stroke-width="1.7" stroke-linecap="round" />
<line x1="99.10" y1="268.60" x2="118.70" y2="279.10" stroke="#a040e0" stroke-width="1.7" stroke-linecap="round" />
<line x1="118.70" y1="279.10" x2="125.00" y2="269.40" stroke="#a040e0" stroke-width="1.7" stroke-linecap="round" />
<circle cx="74.30" cy="251.20" r="2.3" fill="#e8742a"/>
<circle cx="61.70" cy="267.60" r="2.3" fill="#e8742a"/>
<circle cx="105.60" cy="256.10" r="2.3" fill="#e8742a"/>
<circle cx="126.60" cy="265.00" r="2.3" fill="#e8742a"/>
<line x1="97.50" y1="248.30" x2="99.00" y2="267.80" stroke="#1e2a66" stroke-width="1.4" stroke-linecap="round" stroke-dasharray="1.3,1.1"/>
<line x1="120.00" y1="279.50" x2="139.60" y2="283.80" stroke="#1e2a66" stroke-width="1.4" stroke-linecap="round" stroke-dasharray="1.3,1.1"/>
<text x="64.7" y="193.4" font-size="14" font-weight="bold" fill="#111" stroke="#111" stroke-width="0.2"><tspan font-style="italic">R</tspan>-Au<tspan font-size="9" dy="2.5">8</tspan></text>
<text x="92.60" y="327.00" font-size="13.2" text-anchor="middle" fill="#111" stroke="#111" stroke-width="0.22" font-weight="normal" font-style="normal" transform="translate(92.60 327.00) scale(1.0 1.0) translate(-92.60 -327.00)" >&lt; 2.86 Å</text>
<text x="11.3" y="346.2" font-size="13.1" fill="#111" stroke="#111" stroke-width="0.22">Au···H<tspan font-size="8.6" dy="-5.8">Ph</tspan><tspan dy="5.8">-C(sp</tspan><tspan font-size="8.6" dy="-5.8">2</tspan><tspan dy="5.8">) interactions</tspan></text>
<text x="205.00" y="14.80" font-size="18.5" text-anchor="start" fill="#111" stroke="#111" stroke-width="0.22" font-weight="normal" font-style="normal" transform="translate(205.00 14.80) scale(1.0 1.0) translate(-205.00 -14.80)" >b</text>
<polyline points="201.50,93.60 201.70,93.60 201.90,93.59 202.10,93.58 202.30,93.55 202.50,93.48 202.70,93.32 202.90,93.01 203.10,92.44 203.30,91.43 203.50,89.78 203.70,87.31 203.90,83.85 204.10,79.42 204.30,74.21 204.50,68.71 204.70,63.58 204.90,59.58 205.10,57.38 205.30,57.38 205.50,59.58 205.70,63.58 205.90,68.71 206.10,74.21 206.30,79.42 206.50,83.85 206.70,87.31 206.90,89.78 207.10,91.43 207.30,92.44 207.50,93.01 207.70,93.32 207.90,93.48 208.10,93.55 208.30,93.58 208.50,93.59 208.70,93.60 208.90,93.60 209.10,93.60 209.30,93.60 209.50,93.60 209.70,93.60 209.90,93.60 210.10,93.60 210.30,93.60 210.50,93.60 210.70,93.60 210.90,93.60 211.10,93.60 211.30,93.60 211.50,93.60 211.70,93.60 211.90,93.60 212.10,93.60 212.30,93.60 212.50,93.60 212.70,93.60 212.90,93.60 213.10,93.60 213.30,93.60 213.50,93.60 213.70,93.60 213.90,93.60 214.10,93.60 214.30,93.59 214.50,93.57 214.70,93.52 214.90,93.40 215.10,93.16 215.30,92.67 215.50,91.74 215.70,90.13 215.90,87.51 216.10,83.57 216.30,78.06 216.50,70.99 216.70,62.69 216.90,53.91 217.10,45.73 217.30,39.35 217.50,35.85 217.70,35.85 217.90,39.35 218.10,45.73 218.30,53.91 218.50,62.69 218.70,70.99 218.90,78.06 219.10,83.57 219.30,87.51 219.50,90.13 219.70,91.74 219.90,92.67 220.10,93.16 220.30,93.40 220.50,93.52 220.70,93.57 220.90,93.59 221.10,93.60 221.30,93.60 221.50,93.60 221.70,93.60 221.90,93.60 222.10,93.60 222.30,93.60 222.50,93.60 222.70,93.60 222.90,93.60 223.10,93.60 223.30,93.60 223.50,93.60 223.70,93.60 223.90,93.60 224.10,93.60 224.30,93.60 224.50,93.60 224.70,93.60 224.90,93.60 225.10,93.60 225.30,93.60 225.50,93.60 225.70,93.60 225.90,93.60 226.10,93.60 226.30,93.60 226.50,93.59 226.70,93.58 226.90,93.56 227.10,93.49 227.30,93.34 227.50,93.04 227.70,92.45 227.90,91.38 228.10,89.57 228.30,86.75 228.50,82.66 228.70,77.17 228.90,70.43 229.10,62.91 229.30,55.41 229.50,48.95 229.70,44.56 229.90,43.00 230.10,44.56 230.30,48.95 230.50,55.41 230.70,62.91 230.90,70.43 231.10,77.17 231.30,82.66 231.50,86.75 231.70,89.57 231.90,91.38 232.10,92.45 232.30,93.04 232.50,93.34 232.70,93.49 232.90,93.56 233.10,93.58 233.30,93.59 233.50,93.60 233.70,93.60 233.90,93.60 234.10,93.60 234.30,93.60 234.50,93.60 234.70,93.60 234.90,93.60 235.10,93.60 235.30,93.60 235.50,93.60 235.70,93.60 235.90,93.60 236.10,93.60 236.30,93.60 236.50,93.60 236.70,93.60 236.90,93.60 237.10,93.60 237.30,93.60 237.50,93.60 237.70,93.60 237.90,93.60 238.10,93.60 238.30,93.60 238.50,93.60 238.70,93.60 238.90,93.60 239.10,93.59 239.30,93.57 239.50,93.53 239.70,93.44 239.90,93.26 240.10,92.90 240.30,92.26 240.50,91.17 240.70,89.46 240.90,86.98 241.10,83.67 241.30,79.59 241.50,75.04 241.70,70.50 241.90,66.60 242.10,63.94 242.30,63.00 242.50,63.94 242.70,66.60 242.90,70.50 243.10,75.04 243.30,79.59 243.50,83.67 243.70,86.98 243.90,89.46 244.10,91.17 244.30,92.26 244.50,92.90 244.70,93.26 244.90,93.44 245.10,93.53 245.30,93.57 245.50,93.59 245.70,93.60 245.90,93.60 246.10,93.60 246.30,93.60 246.50,93.60 246.70,93.60 246.90,93.60 247.10,93.60 247.30,93.60 247.50,93.60 247.70,93.60 247.90,93.60 248.10,93.60 248.30,93.60 248.50,93.60 248.70,93.60 248.90,93.60 249.10,93.60 249.30,93.60 249.50,93.60 249.70,93.60 249.90,93.60 250.10,93.60 250.30,93.60 250.50,93.60 250.70,93.60 250.90,93.60 251.10,93.60 251.30,93.60 251.50,93.60 251.70,93.60 251.90,93.59 252.10,93.57 252.30,93.52 252.50,93.44 252.70,93.26 252.90,92.95 253.10,92.42 253.30,91.60 253.50,90.40 253.70,88.80 253.90,86.82 254.10,84.62 254.30,82.43 254.50,80.54 254.70,79.26 254.90,78.80 255.10,79.26 255.30,80.54 255.50,82.43 255.70,84.62 255.90,86.82 256.10,88.80 256.30,90.40 256.50,91.60 256.70,92.42 256.90,92.95 257.10,93.26 257.30,93.44 257.50,93.52 257.70,93.57 257.90,93.59 258.10,93.60 258.30,93.60 258.50,93.60 258.70,93.60 258.90,93.60 259.10,93.60 259.30,93.60 259.50,93.60 259.70,93.60 259.90,93.60 260.10,93.60 260.30,93.60 260.50,93.60 260.70,93.60 260.90,93.60 261.10,93.60 261.30,93.60 261.50,93.60 261.70,93.60 261.90,93.60 262.10,93.60 262.30,93.60 262.50,93.60 262.70,93.60 262.90,93.60 263.10,93.60 263.30,93.60 263.50,93.60 263.70,93.60 263.90,93.60 264.10,93.60 264.30,93.59 264.50,93.58 264.70,93.55 264.90,93.49 265.10,93.39 265.30,93.21 265.50,92.91 265.70,92.46 265.90,91.84 266.10,91.04 266.30,90.09 266.50,89.10 266.70,88.17 266.90,87.45 267.10,87.05 267.30,87.05 267.50,87.45 267.70,88.17 267.90,89.10 268.10,90.09 268.30,91.04 268.50,91.84 268.70,92.46 268.90,92.91 269.10,93.21 269.30,93.39 269.50,93.49 269.70,93.55 269.90,93.58 270.10,93.59 270.30,93.60 270.50,93.60 270.70,93.60 270.90,93.60 271.10,93.60 271.30,93.60 271.50,93.60 271.70,93.60 271.90,93.60 272.10,93.60 272.30,93.60 272.50,93.60 272.70,93.60 272.90,93.60 273.10,93.60 273.30,93.60 273.50,93.60 273.70,93.60 273.90,93.60 274.10,93.60 274.30,93.60 274.50,93.60 274.70,93.60 274.90,93.60 275.10,93.60 275.30,93.60 275.50,93.60 275.70,93.60 275.90,93.60 276.10,93.60 276.30,93.60 276.50,93.60 276.70,93.60 276.90,93.59 277.10,93.58 277.30,93.55 277.50,93.51 277.70,93.43 277.90,93.30 278.10,93.10 278.30,92.83 278.50,92.47 278.70,92.06 278.90,91.62 279.10,91.21 279.30,90.90 279.50,90.72 279.70,90.72 279.90,90.90 280.10,91.21 280.30,91.62 280.50,92.06 280.70,92.47 280.90,92.83 281.10,93.10 281.30,93.30 281.50,93.43 281.70,93.51 281.90,93.55 282.10,93.58 282.30,93.59 282.50,93.60 282.70,93.60 282.90,93.60 283.10,93.60 283.30,93.60 283.50,93.60 283.70,93.60 283.90,93.60 284.10,93.60 284.30,93.60 284.50,93.60 284.70,93.60 284.90,93.60 285.10,93.60 285.30,93.60 285.50,93.60 285.70,93.60 285.90,93.60 286.10,93.60 286.30,93.60 286.50,93.60 286.70,93.60 286.90,93.60 287.10,93.60 287.30,93.60 287.50,93.60 287.70,93.60 287.90,93.60 288.10,93.60 288.30,93.60 288.50,93.60 288.70,93.60 288.90,93.60 289.10,93.60 289.30,93.60 289.50,93.59 289.70,93.58 289.90,93.56 290.10,93.52 290.30,93.46 290.50,93.38 290.70,93.25 290.90,93.09 291.10,92.91 291.30,92.71 291.50,92.53 291.70,92.39 291.90,92.31 292.10,92.31 292.30,92.39 292.50,92.53 292.70,92.71 292.90,92.91 293.10,93.09 293.30,93.25 293.50,93.38 293.70,93.46 293.90,93.52 294.10,93.56 294.30,93.58 294.50,93.59 294.70,93.60 294.90,93.60 295.10,93.60 295.30,93.60 295.50,93.60 295.70,93.60 295.90,93.60 296.10,93.60 296.30,93.60 296.50,93.60 296.70,93.60 296.90,93.60 297.10,93.60 297.30,93.60 297.50,93.60 297.70,93.60 297.90,93.60 298.10,93.60 298.30,93.60 298.50,93.60 298.70,93.60 298.90,93.60 299.10,93.60 299.30,93.60 299.50,93.60 299.70,93.60 299.90,93.60" fill="none" stroke="#74e8bd" stroke-width="1.25" stroke-linejoin="round"/>
<polyline points="201.50,99.00 201.70,99.00 201.90,98.99 202.10,98.98 202.30,98.95 202.50,98.88 202.70,98.72 202.90,98.41 203.10,97.84 203.30,96.83 203.50,95.18 203.70,92.71 203.90,89.25 204.10,84.82 204.30,79.61 204.50,74.11 204.70,68.98 204.90,64.98 205.10,62.78 205.30,62.78 205.50,64.98 205.70,68.98 205.90,74.11 206.10,79.61 206.30,84.82 206.50,89.25 206.70,92.71 206.90,95.18 207.10,96.83 207.30,97.84 207.50,98.41 207.70,98.72 207.90,98.88 208.10,98.95 208.30,98.98 208.50,98.99 208.70,99.00 208.90,99.00 209.10,99.00 209.30,99.00 209.50,99.00 209.70,99.00 209.90,99.00 210.10,99.00 210.30,99.00 210.50,99.00 210.70,99.00 210.90,99.00 211.10,99.00 211.30,99.00 211.50,99.00 211.70,99.00 211.90,99.00 212.10,99.00 212.30,99.00 212.50,99.00 212.70,99.00 212.90,99.00 213.10,99.00 213.30,99.00 213.50,99.00 213.70,99.00 213.90,99.00 214.10,99.00 214.30,98.99 214.50,98.97 214.70,98.92 214.90,98.80 215.10,98.56 215.30,98.07 215.50,97.14 215.70,95.53 215.90,92.91 216.10,88.97 216.30,83.46 216.50,76.39 216.70,68.09 216.90,59.31 217.10,51.13 217.30,44.75 217.50,41.25 217.70,41.25 217.90,44.75 218.10,51.13 218.30,59.31 218.50,68.09 218.70,76.39 218.90,83.46 219.10,88.97 219.30,92.91 219.50,95.53 219.70,97.14 219.90,98.07 220.10,98.56 220.30,98.80 220.50,98.92 220.70,98.97 220.90,98.99 221.10,99.00 221.30,99.00 221.50,99.00 221.70,99.00 221.90,99.00 222.10,99.00 222.30,99.00 222.50,99.00 222.70,99.00 222.90,99.00 223.10,99.00 223.30,99.00 223.50,99.00 223.70,99.00 223.90,99.00 224.10,99.00 224.30,99.00 224.50,99.00 224.70,99.00 224.90,99.00 225.10,99.00 225.30,99.00 225.50,99.00 225.70,99.00 225.90,99.00 226.10,99.00 226.30,99.00 226.50,98.99 226.70,98.98 226.90,98.96 227.10,98.89 227.30,98.74 227.50,98.44 227.70,97.85 227.90,96.78 228.10,94.97 228.30,92.15 228.50,88.06 228.70,82.57 228.90,75.83 229.10,68.31 229.30,60.81 229.50,54.35 229.70,49.96 229.90,48.40 230.10,49.96 230.30,54.35 230.50,60.81 230.70,68.31 230.90,75.83 231.10,82.57 231.30,88.06 231.50,92.15 231.70,94.97 231.90,96.78 232.10,97.85 232.30,98.44 232.50,98.74 232.70,98.89 232.90,98.96 233.10,98.98 233.30,98.99 233.50,99.00 233.70,99.00 233.90,99.00 234.10,99.00 234.30,99.00 234.50,99.00 234.70,99.00 234.90,99.00 235.10,99.00 235.30,99.00 235.50,99.00 235.70,99.00 235.90,99.00 236.10,99.00 236.30,99.00 236.50,99.00 236.70,99.00 236.90,99.00 237.10,99.00 237.30,99.00 237.50,99.00 237.70,99.00 237.90,99.00 238.10,99.00 238.30,99.00 238.50,99.00 238.70,99.00 238.90,99.00 239.10,98.99 239.30,98.97 239.50,98.93 239.70,98.84 239.90,98.66 240.10,98.29 240.30,97.64 240.50,96.53 240.70,94.80 240.90,92.30 241.10,88.94 241.30,84.81 241.50,80.20 241.70,75.60 241.90,71.64 242.10,68.95 242.30,68.00 242.50,68.95 242.70,71.64 242.90,75.60 243.10,80.20 243.30,84.81 243.50,88.94 243.70,92.30 243.90,94.80 244.10,96.53 244.30,97.64 244.50,98.29 244.70,98.66 244.90,98.84 245.10,98.93 245.30,98.97 245.50,98.99 245.70,99.00 245.90,99.00 246.10,99.00 246.30,99.00 246.50,99.00 246.70,99.00 246.90,99.00 247.10,99.00 247.30,99.00 247.50,99.00 247.70,99.00 247.90,99.00 248.10,99.00 248.30,99.00 248.50,99.00 248.70,99.00 248.90,99.00 249.10,99.00 249.30,99.00 249.50,99.00 249.70,99.00 249.90,99.00 250.10,99.00 250.30,99.00 250.50,99.00 250.70,99.00 250.90,99.00 251.10,99.00 251.30,99.00 251.50,99.00 251.70,98.99 251.90,98.99 252.10,98.97 252.30,98.92 252.50,98.83 252.70,98.65 252.90,98.33 253.10,97.79 253.30,96.94 253.50,95.71 253.70,94.07 253.90,92.04 254.10,89.78 254.30,87.53 254.50,85.59 254.70,84.27 254.90,83.80 255.10,84.27 255.30,85.59 255.50,87.53 255.70,89.78 255.90,92.04 256.10,94.07 256.30,95.71 256.50,96.94 256.70,97.79 256.90,98.33 257.10,98.65 257.30,98.83 257.50,98.92 257.70,98.97 257.90,98.99 258.10,98.99 258.30,99.00 258.50,99.00 258.70,99.00 258.90,99.00 259.10,99.00 259.30,99.00 259.50,99.00 259.70,99.00 259.90,99.00 260.10,99.00 260.30,99.00 260.50,99.00 260.70,99.00 260.90,99.00 261.10,99.00 261.30,99.00 261.50,99.00 261.70,99.00 261.90,99.00 262.10,99.00 262.30,99.00 262.50,99.00 262.70,99.00 262.90,99.00 263.10,99.00 263.30,99.00 263.50,99.00 263.70,99.00 263.90,99.00 264.10,99.00 264.30,98.99 264.50,98.98 264.70,98.95 264.90,98.90 265.10,98.81 265.30,98.64 265.50,98.36 265.70,97.95 265.90,97.37 266.10,96.63 266.30,95.76 266.50,94.84 266.70,93.98 266.90,93.31 267.10,92.95 267.30,92.95 267.50,93.31 267.70,93.98 267.90,94.84 268.10,95.76 268.30,96.63 268.50,97.37 268.70,97.95 268.90,98.36 269.10,98.64 269.30,98.81 269.50,98.90 269.70,98.95 269.90,98.98 270.10,98.99 270.30,99.00 270.50,99.00 270.70,99.00 270.90,99.00 271.10,99.00 271.30,99.00 271.50,99.00 271.70,99.00 271.90,99.00 272.10,99.00 272.30,99.00 272.50,99.00 272.70,99.00 272.90,99.00 273.10,99.00 273.30,99.00 273.50,99.00 273.70,99.00 273.90,99.00 274.10,99.00 274.30,99.00 274.50,99.00 274.70,99.00 274.90,99.00 275.10,99.00 275.30,99.00 275.50,99.00 275.70,99.00 275.90,99.00 276.10,99.00 276.30,99.00 276.50,99.00 276.70,99.00 276.90,98.99 277.10,98.98 277.30,98.96 277.50,98.93 277.70,98.87 277.90,98.77 278.10,98.62 278.30,98.41 278.50,98.15 278.70,97.83 278.90,97.50 279.10,97.19 279.30,96.95 279.50,96.82 279.70,96.82 279.90,96.95 280.10,97.19 280.30,97.50 280.50,97.83 280.70,98.15 280.90,98.41 281.10,98.62 281.30,98.77 281.50,98.87 281.70,98.93 281.90,98.96 282.10,98.98 282.30,98.99 282.50,99.00 282.70,99.00 282.90,99.00 283.10,99.00 283.30,99.00 283.50,99.00 283.70,99.00 283.90,99.00 284.10,99.00 284.30,99.00 284.50,99.00 284.70,99.00 284.90,99.00 285.10,99.00 285.30,99.00 285.50,99.00 285.70,99.00 285.90,99.00 286.10,99.00 286.30,99.00 286.50,99.00 286.70,99.00 286.90,99.00 287.10,99.00 287.30,99.00 287.50,99.00 287.70,99.00 287.90,99.00 288.10,99.00 288.30,99.00 288.50,99.00 288.70,99.00 288.90,99.00 289.10,99.00 289.30,99.00 289.50,98.99 289.70,98.98 289.90,98.97 290.10,98.94 290.30,98.90 290.50,98.83 290.70,98.73 290.90,98.61 291.10,98.47 291.30,98.32 291.50,98.18 291.70,98.07 291.90,98.01 292.10,98.01 292.30,98.07 292.50,98.18 292.70,98.32 292.90,98.47 293.10,98.61 293.30,98.73 293.50,98.83 293.70,98.90 293.90,98.94 294.10,98.97 294.30,98.98 294.50,98.99 294.70,99.00 294.90,99.00 295.10,99.00 295.30,99.00 295.50,99.00 295.70,99.00 295.90,99.00 296.10,99.00 296.30,99.00 296.50,99.00 296.70,99.00 296.90,99.00 297.10,99.00 297.30,99.00 297.50,99.00 297.70,99.00 297.90,99.00 298.10,99.00 298.30,99.00 298.50,99.00 298.70,99.00 298.90,99.00 299.10,99.00 299.30,99.00 299.50,99.00 299.70,99.00 299.90,99.00" fill="none" stroke="#f0649a" stroke-width="1.2" stroke-linejoin="round"/>
<line x1="201.30" y1="101.90" x2="300.50" y2="101.90" stroke="#333" stroke-width="1.3" />
<line x1="201.30" y1="101.80" x2="201.30" y2="103.60" stroke="#444" stroke-width="1" />
<line x1="213.67" y1="101.80" x2="213.67" y2="102.90" stroke="#444" stroke-width="1" />
<line x1="226.03" y1="101.80" x2="226.03" y2="103.60" stroke="#444" stroke-width="1" />
<line x1="238.40" y1="101.80" x2="238.40" y2="102.90" stroke="#444" stroke-width="1" />
<line x1="250.76" y1="101.80" x2="250.76" y2="103.60" stroke="#444" stroke-width="1" />
<line x1="263.12" y1="101.80" x2="263.12" y2="102.90" stroke="#444" stroke-width="1" />
<line x1="275.49" y1="101.80" x2="275.49" y2="103.60" stroke="#444" stroke-width="1" />
<line x1="287.86" y1="101.80" x2="287.86" y2="102.90" stroke="#444" stroke-width="1" />
<line x1="300.22" y1="101.80" x2="300.22" y2="103.60" stroke="#444" stroke-width="1" />
<text x="201.30" y="111.80" font-size="7.2" text-anchor="middle" fill="#222" stroke="#222" stroke-width="0.22" font-weight="normal" font-style="normal" transform="translate(201.30 111.80) scale(1.0 1.1) translate(-201.30 -111.80)" >1874</text>
<text x="226.03" y="111.80" font-size="7.2" text-anchor="middle" fill="#222" stroke="#222" stroke-width="0.22" font-weight="normal" font-style="normal" transform="translate(226.03 111.80) scale(1.0 1.1) translate(-226.03 -111.80)" >1875</text>
<text x="250.76" y="111.80" font-size="7.2" text-anchor="middle" fill="#222" stroke="#222" stroke-width="0.22" font-weight="normal" font-style="normal" transform="translate(250.76 111.80) scale(1.0 1.1) translate(-250.76 -111.80)" >1876</text>
<text x="275.49" y="111.80" font-size="7.2" text-anchor="middle" fill="#222" stroke="#222" stroke-width="0.22" font-weight="normal" font-style="normal" transform="translate(275.49 111.80) scale(1.0 1.1) translate(-275.49 -111.80)" >1877</text>
<text x="300.22" y="111.80" font-size="7.2" text-anchor="middle" fill="#222" stroke="#222" stroke-width="0.22" font-weight="normal" font-style="normal" transform="translate(300.22 111.80) scale(1.0 1.1) translate(-300.22 -111.80)" >1878</text>
<text x="245.00" y="124.00" font-size="10.8" text-anchor="middle" fill="#111" stroke="#111" stroke-width="0.22" font-weight="normal" font-style="italic" transform="translate(245.00 124.00) scale(1.0 1.1) translate(-245.00 -124.00)" >m/z</text>
<line x1="275.00" y1="39.10" x2="283.00" y2="39.10" stroke="#74e8bd" stroke-width="1.4" />
<line x1="275.00" y1="47.80" x2="283.00" y2="47.80" stroke="#f0588e" stroke-width="1.4" />
<text x="284.80" y="40.70" font-size="7.2" text-anchor="start" fill="#222" stroke="#222" stroke-width="0.22" font-weight="normal" font-style="normal" transform="translate(284.80 40.70) scale(0.95 1.2) translate(-284.80 -40.70)" >Sim.</text>
<text x="284.80" y="49.40" font-size="7.2" text-anchor="start" fill="#222" stroke="#222" stroke-width="0.22" font-weight="normal" font-style="normal" transform="translate(284.80 49.40) scale(0.95 1.2) translate(-284.80 -49.40)" >Exp.</text>
<polyline points="341.40,83.20 341.60,83.20 341.80,83.20 342.00,83.20 342.20,83.20 342.40,83.20 342.60,83.20 342.80,83.20 343.00,83.20 343.20,83.20 343.40,83.20 343.60,83.20 343.80,83.20 344.00,83.20 344.20,83.20 344.40,83.20 344.60,83.20 344.80,83.19 345.00,83.19 345.20,83.17 345.40,83.13 345.60,83.05 345.80,82.90 346.00,82.63 346.20,82.21 346.40,81.56 346.60,80.66 346.80,79.51 347.00,78.15 347.20,76.72 347.40,75.39 347.60,74.35 347.80,73.77 348.00,73.77 348.20,74.35 348.40,75.39 348.60,76.72 348.80,78.15 349.00,79.51 349.20,80.66 349.40,81.56 349.60,82.21 349.80,82.63 350.00,82.90 350.20,83.05 350.40,83.13 350.60,83.17 350.80,83.19 351.00,83.19 351.20,83.20 351.40,83.20 351.60,83.20 351.80,83.20 352.00,83.20 352.20,83.20 352.40,83.20 352.60,83.20 352.80,83.20 353.00,83.20 353.20,83.20 353.40,83.20 353.60,83.19 353.80,83.18 354.00,83.16 354.20,83.10 354.40,82.97 354.60,82.72 354.80,82.24 355.00,81.41 355.20,80.05 355.40,78.01 355.60,75.16 355.80,71.50 356.00,67.21 356.20,62.67 356.40,58.44 356.60,55.14 356.80,53.33 357.00,53.33 357.20,55.14 357.40,58.44 357.60,62.67 357.80,67.21 358.00,71.50 358.20,75.16 358.40,78.01 358.60,80.05 358.80,81.41 359.00,82.24 359.20,82.72 359.40,82.97 359.60,83.10 359.80,83.16 360.00,83.18 360.20,83.19 360.40,83.20 360.60,83.20 360.80,83.20 361.00,83.20 361.20,83.20 361.40,83.20 361.60,83.20 361.80,83.20 362.00,83.19 362.20,83.18 362.40,83.16 362.60,83.09 362.80,82.94 363.00,82.64 363.20,82.06 363.40,80.99 363.60,79.21 363.80,76.41 364.00,72.34 364.20,66.90 364.40,60.22 364.60,52.75 364.80,45.31 365.00,38.90 365.20,34.54 365.40,33.00 365.60,34.54 365.80,38.90 366.00,45.31 366.20,52.75 366.40,60.22 366.60,66.90 366.80,72.34 367.00,76.41 367.20,79.21 367.40,80.99 367.60,82.06 367.80,82.64 368.00,82.94 368.20,83.09 368.40,83.16 368.60,83.18 368.80,83.19 369.00,83.20 369.20,83.20 369.40,83.20 369.60,83.20 369.80,83.20 370.00,83.20 370.20,83.20 370.40,83.20 370.60,83.20 370.80,83.19 371.00,83.17 371.20,83.12 371.40,83.01 371.60,82.76 371.80,82.27 372.00,81.35 372.20,79.75 372.40,77.14 372.60,73.22 372.80,67.74 373.00,60.70 373.20,52.45 373.40,43.72 373.60,35.57 373.80,29.23 374.00,25.75 374.20,25.75 374.40,29.23 374.60,35.57 374.80,43.72 375.00,52.45 375.20,60.70 375.40,67.74 375.60,73.22 375.80,77.14 376.00,79.75 376.20,81.35 376.40,82.27 376.60,82.76 376.80,83.01 377.00,83.12 377.20,83.17 377.40,83.19 377.60,83.20 377.80,83.20 378.00,83.20 378.20,83.20 378.40,83.20 378.60,83.20 378.80,83.20 379.00,83.20 379.20,83.19 379.40,83.18 379.60,83.15 379.80,83.09 380.00,82.94 380.20,82.63 380.40,82.03 380.60,80.94 380.80,79.10 381.00,76.23 381.20,72.06 381.40,66.48 381.60,59.62 381.80,51.96 382.00,44.33 382.20,37.75 382.40,33.28 382.60,31.70 382.80,33.28 383.00,37.75 383.20,44.33 383.40,51.96 383.60,59.62 383.80,66.48 384.00,72.06 384.20,76.23 384.40,79.10 384.60,80.94 384.80,82.03 385.00,82.63 385.20,82.94 385.40,83.09 385.60,83.15 385.80,83.18 386.00,83.19 386.20,83.20 386.40,83.20 386.60,83.20 386.80,83.20 387.00,83.20 387.20,83.20 387.40,83.20 387.60,83.20 387.80,83.19 388.00,83.18 388.20,83.15 388.40,83.08 388.60,82.92 388.80,82.61 389.00,82.03 389.20,81.01 389.40,79.35 389.60,76.85 389.80,73.37 390.00,68.90 390.20,63.66 390.40,58.10 390.60,52.93 390.80,48.90 391.00,46.69 391.20,46.69 391.40,48.90 391.60,52.93 391.80,58.10 392.00,63.66 392.20,68.90 392.40,73.37 392.60,76.85 392.80,79.35 393.00,81.01 393.20,82.03 393.40,82.61 393.60,82.92 393.80,83.08 394.00,83.15 394.20,83.18 394.40,83.19 394.60,83.20 394.80,83.20 395.00,83.20 395.20,83.20 395.40,83.20 395.60,83.20 395.80,83.20 396.00,83.20 396.20,83.20 396.40,83.20 396.60,83.20 396.80,83.19 397.00,83.17 397.20,83.12 397.40,83.03 397.60,82.84 397.80,82.49 398.00,81.87 398.20,80.86 398.40,79.34 398.60,77.22 398.80,74.50 399.00,71.30 399.20,67.92 399.40,64.77 399.60,62.32 399.80,60.97 400.00,60.97 400.20,62.32 400.40,64.77 400.60,67.92 400.80,71.30 401.00,74.50 401.20,77.22 401.40,79.34 401.60,80.86 401.80,81.87 402.00,82.49 402.20,82.84 402.40,83.03 402.60,83.12 402.80,83.17 403.00,83.19 403.20,83.20 403.40,83.20 403.60,83.20 403.80,83.20 404.00,83.20 404.20,83.20 404.40,83.20 404.60,83.20 404.80,83.20 405.00,83.20 405.20,83.20 405.40,83.19 405.60,83.17 405.80,83.14 406.00,83.07 406.20,82.92 406.40,82.67 406.60,82.24 406.80,81.56 407.00,80.58 407.20,79.27 407.40,77.66 407.60,75.86 407.80,74.07 408.00,72.52 408.20,71.47 408.40,71.10 408.60,71.47 408.80,72.52 409.00,74.07 409.20,75.86 409.40,77.66 409.60,79.27 409.80,80.58 410.00,81.56 410.20,82.24 410.40,82.67 410.60,82.92 410.80,83.07 411.00,83.14 411.20,83.17 411.40,83.19 411.60,83.20 411.80,83.20 412.00,83.20 412.20,83.20 412.40,83.20 412.60,83.20 412.80,83.20 413.00,83.20 413.20,83.20 413.40,83.20 413.60,83.20 413.80,83.20 414.00,83.19 414.20,83.18 414.40,83.16 414.60,83.11 414.80,83.01 415.00,82.85 415.20,82.58 415.40,82.18 415.60,81.62 415.80,80.91 416.00,80.07 416.20,79.18 416.40,78.35 416.60,77.70 416.80,77.35 417.00,77.35 417.20,77.70 417.40,78.35 417.60,79.18 417.80,80.07 418.00,80.91 418.20,81.62 418.40,82.18 418.60,82.58 418.80,82.85 419.00,83.01 419.20,83.11 419.40,83.16 419.60,83.18 419.80,83.19 420.00,83.20 420.20,83.20 420.40,83.20 420.60,83.20 420.80,83.20 421.00,83.20 421.20,83.20 421.40,83.20 421.60,83.20 421.80,83.20 422.00,83.20 422.20,83.20 422.40,83.20 422.60,83.20 422.80,83.20 423.00,83.19 423.20,83.19 423.40,83.17 423.60,83.14 423.80,83.09 424.00,83.01 424.20,82.89 424.40,82.72 424.60,82.50 424.80,82.24 425.00,81.97 425.20,81.72 425.40,81.52 425.60,81.41 425.80,81.41 426.00,81.52 426.20,81.72 426.40,81.97 426.60,82.24 426.80,82.50 427.00,82.72 427.20,82.89 427.40,83.01 427.60,83.09 427.80,83.14 428.00,83.17 428.20,83.19 428.40,83.19 428.60,83.20 428.80,83.20 429.00,83.20 429.20,83.20 429.40,83.20 429.60,83.20 429.80,83.20 430.00,83.20 430.20,83.20 430.40,83.20 430.60,83.20 430.80,83.20 431.00,83.20 431.20,83.20 431.40,83.20 431.60,83.19 431.80,83.19 432.00,83.17 432.20,83.15 432.40,83.11 432.60,83.04 432.80,82.96 433.00,82.85 433.20,82.72 433.40,82.59 433.60,82.46 433.80,82.36 434.00,82.31 434.20,82.31 434.40,82.36 434.60,82.46 434.80,82.59 435.00,82.72 435.20,82.85 435.40,82.96 435.60,83.04 435.80,83.11 436.00,83.15 436.20,83.17 436.40,83.19 436.60,83.19 436.80,83.20 437.00,83.20 437.20,83.20 437.40,83.20 437.60,83.20 437.80,83.20 438.00,83.20 438.20,83.20 438.40,83.20 438.60,83.20 438.80,83.20 439.00,83.20 439.20,83.20 439.40,83.20 439.60,83.20 439.80,83.20 440.00,83.20 440.20,83.20 440.40,83.19 440.60,83.18 440.80,83.17 441.00,83.15 441.20,83.12 441.40,83.08 441.60,83.04 441.80,83.00 442.00,82.95 442.20,82.92 442.40,82.90 442.60,82.90 442.80,82.92 443.00,82.95 443.20,83.00 443.40,83.04 443.60,83.08 443.80,83.12 444.00,83.15 444.20,83.17 444.40,83.18 444.60,83.19 444.80,83.20 445.00,83.20 445.20,83.20" fill="none" stroke="#74e8bd" stroke-width="1.25" stroke-linejoin="round"/>
<polyline points="341.40,89.20 341.60,89.20 341.80,89.20 342.00,89.20 342.20,89.20 342.40,89.20 342.60,89.20 342.80,89.20 343.00,89.20 343.20,89.20 343.40,89.20 343.60,89.20 343.80,89.20 344.00,89.20 344.20,89.20 344.40,89.20 344.60,89.20 344.80,89.20 345.00,89.19 345.20,89.17 345.40,89.14 345.60,89.06 345.80,88.93 346.00,88.69 346.20,88.31 346.40,87.73 346.60,86.93 346.80,85.90 347.00,84.69 347.20,83.40 347.40,82.21 347.60,81.28 347.80,80.77 348.00,80.77 348.20,81.28 348.40,82.21 348.60,83.40 348.80,84.69 349.00,85.90 349.20,86.93 349.40,87.73 349.60,88.31 349.80,88.69 350.00,88.93 350.20,89.06 350.40,89.14 350.60,89.17 350.80,89.19 351.00,89.20 351.20,89.20 351.40,89.20 351.60,89.20 351.80,89.20 352.00,89.20 352.20,89.20 352.40,89.20 352.60,89.20 352.80,89.20 353.00,89.20 353.20,89.20 353.40,89.20 353.60,89.19 353.80,89.18 354.00,89.16 354.20,89.11 354.40,88.99 354.60,88.75 354.80,88.31 355.00,87.54 355.20,86.29 355.40,84.41 355.60,81.78 355.80,78.40 356.00,74.44 356.20,70.24 356.40,66.33 356.60,63.29 356.80,61.62 357.00,61.62 357.20,63.29 357.40,66.33 357.60,70.24 357.80,74.44 358.00,78.40 358.20,81.78 358.40,84.41 358.60,86.29 358.80,87.54 359.00,88.31 359.20,88.75 359.40,88.99 359.60,89.11 359.80,89.16 360.00,89.18 360.20,89.19 360.40,89.20 360.60,89.20 360.80,89.20 361.00,89.20 361.20,89.20 361.40,89.20 361.60,89.20 361.80,89.20 362.00,89.19 362.20,89.18 362.40,89.16 362.60,89.09 362.80,88.95 363.00,88.66 363.20,88.10 363.40,87.07 363.60,85.35 363.80,82.65 364.00,78.73 364.20,73.49 364.40,67.04 364.60,59.84 364.80,52.67 365.00,46.49 365.20,42.29 365.40,40.80 365.60,42.29 365.80,46.49 366.00,52.67 366.20,59.84 366.40,67.04 366.60,73.49 366.80,78.73 367.00,82.65 367.20,85.35 367.40,87.07 367.60,88.10 367.80,88.66 368.00,88.95 368.20,89.09 368.40,89.16 368.60,89.18 368.80,89.19 369.00,89.20 369.20,89.20 369.40,89.20 369.60,89.20 369.80,89.20 370.00,89.20 370.20,89.20 370.40,89.20 370.60,89.20 370.80,89.19 371.00,89.17 371.20,89.12 371.40,89.02 371.60,88.78 371.80,88.32 372.00,87.45 372.20,85.93 372.40,83.46 372.60,79.73 372.80,74.54 373.00,67.87 373.20,60.04 373.40,51.76 373.60,44.04 373.80,38.03 374.00,34.73 374.20,34.73 374.40,38.03 374.60,44.04 374.80,51.76 375.00,60.04 375.20,67.87 375.40,74.54 375.60,79.73 375.80,83.46 376.00,85.93 376.20,87.45 376.40,88.32 376.60,88.78 376.80,89.02 377.00,89.12 377.20,89.17 377.40,89.19 377.60,89.20 377.80,89.20 378.00,89.20 378.20,89.20 378.40,89.20 378.60,89.20 378.80,89.20 379.00,89.20 379.20,89.19 379.40,89.18 379.60,89.16 379.80,89.09 380.00,88.95 380.20,88.65 380.40,88.07 380.60,87.02 380.80,85.25 381.00,82.47 381.20,78.45 381.40,73.06 381.60,66.45 381.80,59.06 382.00,51.68 382.20,45.34 382.40,41.03 382.60,39.50 382.80,41.03 383.00,45.34 383.20,51.68 383.40,59.06 383.60,66.45 383.80,73.06 384.00,78.45 384.20,82.47 384.40,85.25 384.60,87.02 384.80,88.07 385.00,88.65 385.20,88.95 385.40,89.09 385.60,89.16 385.80,89.18 386.00,89.19 386.20,89.20 386.40,89.20 386.60,89.20 386.80,89.20 387.00,89.20 387.20,89.20 387.40,89.20 387.60,89.20 387.80,89.19 388.00,89.18 388.20,89.15 388.40,89.08 388.60,88.93 388.80,88.63 389.00,88.06 389.20,87.08 389.40,85.48 389.60,83.06 389.80,79.69 390.00,75.37 390.20,70.29 390.40,64.92 390.60,59.92 390.80,56.02 391.00,53.88 391.20,53.88 391.40,56.02 391.60,59.92 391.80,64.92 392.00,70.29 392.20,75.37 392.40,79.69 392.60,83.06 392.80,85.48 393.00,87.08 393.20,88.06 393.40,88.63 393.60,88.93 393.80,89.08 394.00,89.15 394.20,89.18 394.40,89.19 394.60,89.20 394.80,89.20 395.00,89.20 395.20,89.20 395.40,89.20 395.60,89.20 395.80,89.20 396.00,89.20 396.20,89.20 396.40,89.20 396.60,89.20 396.80,89.19 397.00,89.17 397.20,89.13 397.40,89.04 397.60,88.86 397.80,88.52 398.00,87.92 398.20,86.96 398.40,85.51 398.60,83.49 398.80,80.88 399.00,77.83 399.20,74.61 399.40,71.60 399.60,69.25 399.80,67.97 400.00,67.97 400.20,69.25 400.40,71.60 400.60,74.61 400.80,77.83 401.00,80.88 401.20,83.49 401.40,85.51 401.60,86.96 401.80,87.92 402.00,88.52 402.20,88.86 402.40,89.04 402.60,89.13 402.80,89.17 403.00,89.19 403.20,89.20 403.40,89.20 403.60,89.20 403.80,89.20 404.00,89.20 404.20,89.20 404.40,89.20 404.60,89.20 404.80,89.20 405.00,89.20 405.20,89.20 405.40,89.19 405.60,89.18 405.80,89.14 406.00,89.08 406.20,88.95 406.40,88.71 406.60,88.32 406.80,87.70 407.00,86.80 407.20,85.60 407.40,84.12 407.60,82.47 407.80,80.82 408.00,79.40 408.20,78.44 408.40,78.10 408.60,78.44 408.80,79.40 409.00,80.82 409.20,82.47 409.40,84.12 409.60,85.60 409.80,86.80 410.00,87.70 410.20,88.32 410.40,88.71 410.60,88.95 410.80,89.08 411.00,89.14 411.20,89.18 411.40,89.19 411.60,89.20 411.80,89.20 412.00,89.20 412.20,89.20 412.40,89.20 412.60,89.20 412.80,89.20 413.00,89.20 413.20,89.20 413.40,89.20 413.60,89.20 413.80,89.20 414.00,89.19 414.20,89.18 414.40,89.15 414.60,89.10 414.80,89.01 415.00,88.84 415.20,88.57 415.40,88.17 415.60,87.60 415.80,86.87 416.00,86.01 416.20,85.11 416.40,84.26 416.60,83.61 416.80,83.25 417.00,83.25 417.20,83.61 417.40,84.26 417.60,85.11 417.80,86.01 418.00,86.87 418.20,87.60 418.40,88.17 418.60,88.57 418.80,88.84 419.00,89.01 419.20,89.10 419.40,89.15 419.60,89.18 419.80,89.19 420.00,89.20 420.20,89.20 420.40,89.20 420.60,89.20 420.80,89.20 421.00,89.20 421.20,89.20 421.40,89.20 421.60,89.20 421.80,89.20 422.00,89.20 422.20,89.20 422.40,89.20 422.60,89.20 422.80,89.20 423.00,89.19 423.20,89.18 423.40,89.16 423.60,89.11 423.80,89.04 424.00,88.92 424.20,88.73 424.40,88.48 424.60,88.15 424.80,87.77 425.00,87.36 425.20,86.98 425.40,86.68 425.60,86.52 425.80,86.52 426.00,86.68 426.20,86.98 426.40,87.36 426.60,87.77 426.80,88.15 427.00,88.48 427.20,88.73 427.40,88.92 427.60,89.04 427.80,89.11 428.00,89.16 428.20,89.18 428.40,89.19 428.60,89.20 428.80,89.20 429.00,89.20 429.20,89.20 429.40,89.20 429.60,89.20 429.80,89.20 430.00,89.20 430.20,89.20 430.40,89.20 430.60,89.20 430.80,89.20 431.00,89.20 431.20,89.20 431.40,89.20 431.60,89.19 431.80,89.18 432.00,89.16 432.20,89.13 432.40,89.07 432.60,88.99 432.80,88.88 433.00,88.73 433.20,88.56 433.40,88.38 433.60,88.21 433.80,88.08 434.00,88.01 434.20,88.01 434.40,88.08 434.60,88.21 434.80,88.38 435.00,88.56 435.20,88.73 435.40,88.88 435.60,88.99 435.80,89.07 436.00,89.13 436.20,89.16 436.40,89.18 436.60,89.19 436.80,89.20 437.00,89.20 437.20,89.20 437.40,89.20 437.60,89.20 437.80,89.20 438.00,89.20 438.20,89.20 438.40,89.20 438.60,89.20 438.80,89.20 439.00,89.20 439.20,89.20 439.40,89.20 439.60,89.20 439.80,89.20 440.00,89.20 440.20,89.19 440.40,89.18 440.60,89.17 440.80,89.15 441.00,89.11 441.20,89.07 441.40,89.01 441.60,88.93 441.80,88.86 442.00,88.79 442.20,88.73 442.40,88.70 442.60,88.70 442.80,88.73 443.00,88.79 443.20,88.86 443.40,88.93 443.60,89.01 443.80,89.07 444.00,89.11 444.20,89.15 444.40,89.17 444.60,89.18 444.80,89.19 445.00,89.20 445.20,89.20" fill="none" stroke="#f0649a" stroke-width="1.2" stroke-linejoin="round"/>
<line x1="341.40" y1="92.20" x2="445.20" y2="92.20" stroke="#333" stroke-width="1.3" />
<line x1="346.50" y1="92.20" x2="346.50" y2="94.00" stroke="#333" stroke-width="1" />
<line x1="359.45" y1="92.20" x2="359.45" y2="93.30" stroke="#333" stroke-width="1" />
<line x1="372.40" y1="92.20" x2="372.40" y2="94.00" stroke="#333" stroke-width="1" />
<line x1="385.35" y1="92.20" x2="385.35" y2="93.30" stroke="#333" stroke-width="1" />
<line x1="398.30" y1="92.20" x2="398.30" y2="94.00" stroke="#333" stroke-width="1" />
<line x1="411.25" y1="92.20" x2="411.25" y2="93.30" stroke="#333" stroke-width="1" />
<line x1="424.20" y1="92.20" x2="424.20" y2="94.00" stroke="#333" stroke-width="1" />
<line x1="437.15" y1="92.20" x2="437.15" y2="93.30" stroke="#333" stroke-width="1" />
<text x="359.80" y="102.30" font-size="7.2" text-anchor="middle" fill="#222" stroke="#222" stroke-width="0.22" font-weight="normal" font-style="normal" transform="translate(359.80 102.30) scale(1.0 1.1) translate(-359.80 -102.30)" >2499</text>
<text x="385.80" y="102.30" font-size="7.2" text-anchor="middle" fill="#222" stroke="#222" stroke-width="0.22" font-weight="normal" font-style="normal" transform="translate(385.80 102.30) scale(1.0 1.1) translate(-385.80 -102.30)" >2500</text>
<text x="411.80" y="102.30" font-size="7.2" text-anchor="middle" fill="#222" stroke="#222" stroke-width="0.22" font-weight="normal" font-style="normal" transform="translate(411.80 102.30) scale(1.0 1.1) translate(-411.80 -102.30)" >2501</text>
<text x="437.80" y="102.30" font-size="7.2" text-anchor="middle" fill="#222" stroke="#222" stroke-width="0.22" font-weight="normal" font-style="normal" transform="translate(437.80 102.30) scale(1.0 1.1) translate(-437.80 -102.30)" >2502</text>
<text x="388.30" y="113.80" font-size="10.8" text-anchor="middle" fill="#111" stroke="#111" stroke-width="0.22" font-weight="normal" font-style="italic" transform="translate(388.30 113.80) scale(1.0 1.1) translate(-388.30 -113.80)" >m/z</text>
<line x1="411.80" y1="28.30" x2="420.00" y2="28.30" stroke="#74e8bd" stroke-width="1.3" />
<line x1="411.80" y1="37.00" x2="420.00" y2="37.00" stroke="#f0588e" stroke-width="1.3" />
<text x="421.30" y="29.80" font-size="7.2" text-anchor="start" fill="#222" stroke="#222" stroke-width="0.22" font-weight="normal" font-style="normal" transform="translate(421.30 29.80) scale(0.95 1.2) translate(-421.30 -29.80)" >Sim.</text>
<text x="421.30" y="39.30" font-size="7.2" text-anchor="start" fill="#222" stroke="#222" stroke-width="0.22" font-weight="normal" font-style="normal" transform="translate(421.30 39.30) scale(0.95 1.2) translate(-421.30 -39.30)" >Exp.</text>
<line x1="202.00" y1="131.50" x2="450.00" y2="131.50" stroke="#f0588e" stroke-width="1.6" />
<line x1="236.00" y1="131.50" x2="236.00" y2="130.51" stroke="#f0588e" stroke-width="0.9" />
<line x1="239.00" y1="131.50" x2="239.00" y2="130.26" stroke="#f0588e" stroke-width="0.9" />
<line x1="244.00" y1="131.50" x2="244.00" y2="130.40" stroke="#f0588e" stroke-width="0.9" />
<line x1="248.00" y1="131.50" x2="248.00" y2="130.22" stroke="#f0588e" stroke-width="0.9" />
<line x1="252.00" y1="131.50" x2="252.00" y2="130.20" stroke="#f0588e" stroke-width="0.9" />
<line x1="255.00" y1="131.50" x2="255.00" y2="130.65" stroke="#f0588e" stroke-width="0.9" />
<line x1="259.00" y1="131.50" x2="259.00" y2="130.69" stroke="#f0588e" stroke-width="0.9" />
<line x1="262.00" y1="131.50" x2="262.00" y2="130.03" stroke="#f0588e" stroke-width="0.9" />
<line x1="266.00" y1="131.50" x2="266.00" y2="130.49" stroke="#f0588e" stroke-width="0.9" />
<line x1="270.00" y1="131.50" x2="270.00" y2="130.51" stroke="#f0588e" stroke-width="0.9" />
<line x1="273.00" y1="131.50" x2="273.00" y2="129.90" stroke="#f0588e" stroke-width="0.9" />
<line x1="277.00" y1="131.50" x2="277.00" y2="130.32" stroke="#f0588e" stroke-width="0.9" />
<line x1="283.00" y1="131.50" x2="283.00" y2="130.03" stroke="#f0588e" stroke-width="0.9" />
<line x1="286.00" y1="131.50" x2="286.00" y2="130.32" stroke="#f0588e" stroke-width="0.9" />
<line x1="290.00" y1="131.50" x2="290.00" y2="130.19" stroke="#f0588e" stroke-width="0.9" />
<line x1="294.00" y1="131.50" x2="294.00" y2="130.58" stroke="#f0588e" stroke-width="0.9" />
<line x1="297.00" y1="131.50" x2="297.00" y2="130.19" stroke="#f0588e" stroke-width="0.9" />
<line x1="323.00" y1="131.50" x2="323.00" y2="130.01" stroke="#f0588e" stroke-width="0.9" />
<line x1="327.00" y1="131.50" x2="327.00" y2="130.28" stroke="#f0588e" stroke-width="0.9" />
<line x1="331.00" y1="131.50" x2="331.00" y2="130.11" stroke="#f0588e" stroke-width="0.9" />
<line x1="336.00" y1="131.50" x2="336.00" y2="130.16" stroke="#f0588e" stroke-width="0.9" />
<line x1="340.00" y1="131.50" x2="340.00" y2="130.65" stroke="#f0588e" stroke-width="0.9" />
<line x1="345.00" y1="131.50" x2="345.00" y2="130.09" stroke="#f0588e" stroke-width="0.9" />
<line x1="358.00" y1="131.50" x2="358.00" y2="130.23" stroke="#f0588e" stroke-width="0.9" />
<line x1="362.00" y1="131.50" x2="362.00" y2="130.46" stroke="#f0588e" stroke-width="0.9" />
<line x1="367.00" y1="131.50" x2="367.00" y2="130.68" stroke="#f0588e" stroke-width="0.9" />
<line x1="372.00" y1="131.50" x2="372.00" y2="130.01" stroke="#f0588e" stroke-width="0.9" />
<line x1="378.00" y1="131.50" x2="378.00" y2="130.32" stroke="#f0588e" stroke-width="0.9" />
<line x1="385.00" y1="131.50" x2="385.00" y2="130.12" stroke="#f0588e" stroke-width="0.9" />
<line x1="392.00" y1="131.50" x2="392.00" y2="130.00" stroke="#f0588e" stroke-width="0.9" />
<line x1="400.00" y1="131.50" x2="400.00" y2="130.13" stroke="#f0588e" stroke-width="0.9" />
<line x1="408.00" y1="131.50" x2="408.00" y2="129.96" stroke="#f0588e" stroke-width="0.9" />
<line x1="415.00" y1="131.50" x2="415.00" y2="130.38" stroke="#f0588e" stroke-width="0.9" />
<line x1="422.00" y1="131.50" x2="422.00" y2="130.06" stroke="#f0588e" stroke-width="0.9" />
<line x1="428.00" y1="131.50" x2="428.00" y2="130.34" stroke="#f0588e" stroke-width="0.9" />
<line x1="439.00" y1="131.50" x2="439.00" y2="129.95" stroke="#f0588e" stroke-width="0.9" />
<line x1="444.00" y1="131.50" x2="444.00" y2="130.00" stroke="#f0588e" stroke-width="0.9" />
<line x1="310.00" y1="131.60" x2="310.00" y2="21.30" stroke="#f0588e" stroke-width="2.0" />
<line x1="312.80" y1="131.60" x2="312.80" y2="118.00" stroke="#f0588e" stroke-width="1.2" />
<line x1="314.40" y1="131.60" x2="314.40" y2="109.00" stroke="#f0588e" stroke-width="1.2" />
<line x1="315.80" y1="131.60" x2="315.80" y2="120.00" stroke="#f0588e" stroke-width="1.2" />
<line x1="317.20" y1="131.60" x2="317.20" y2="125.00" stroke="#f0588e" stroke-width="1.2" />
<line x1="318.50" y1="131.60" x2="318.50" y2="128.00" stroke="#f0588e" stroke-width="1.2" />
<line x1="351.60" y1="131.60" x2="351.60" y2="125.20" stroke="#f0588e" stroke-width="1.1" />
<line x1="354.50" y1="131.60" x2="354.50" y2="128.50" stroke="#f0588e" stroke-width="1.1" />
<line x1="433.60" y1="131.60" x2="433.60" y2="128.30" stroke="#f0588e" stroke-width="1.1" />
<line x1="279.80" y1="131.60" x2="279.80" y2="127.90" stroke="#f0588e" stroke-width="1.1" />
<line x1="281.00" y1="131.60" x2="281.00" y2="128.30" stroke="#f0588e" stroke-width="1.1" />
<rect x="311.0" y="105.2" width="9.5" height="31.2" fill="none" stroke="#4a78c8" stroke-width="1.3" stroke-dasharray="2.2,1.6"/>
<line x1="202.00" y1="137.20" x2="450.00" y2="137.20" stroke="#333" stroke-width="1.4" />
<line x1="219.00" y1="137.20" x2="219.00" y2="140.20" stroke="#333" stroke-width="1.3" />
<line x1="252.00" y1="137.20" x2="252.00" y2="142.20" stroke="#333" stroke-width="1.3" />
<line x1="285.00" y1="137.20" x2="285.00" y2="140.20" stroke="#333" stroke-width="1.3" />
<line x1="318.00" y1="137.20" x2="318.00" y2="142.20" stroke="#333" stroke-width="1.3" />
<line x1="351.00" y1="137.20" x2="351.00" y2="140.20" stroke="#333" stroke-width="1.3" />
<line x1="384.00" y1="137.20" x2="384.00" y2="142.20" stroke="#333" stroke-width="1.3" />
<line x1="417.00" y1="137.20" x2="417.00" y2="140.20" stroke="#333" stroke-width="1.3" />
<line x1="450.00" y1="137.20" x2="450.00" y2="142.20" stroke="#333" stroke-width="1.3" />
<text x="252.00" y="154.60" font-size="11.5" text-anchor="middle" fill="#222" stroke="#222" stroke-width="0.22" font-weight="normal" font-style="normal" transform="translate(252.00 154.60) scale(1.0 1.03) translate(-252.00 -154.60)" >1000</text>
<text x="318.00" y="154.60" font-size="11.5" text-anchor="middle" fill="#222" stroke="#222" stroke-width="0.22" font-weight="normal" font-style="normal" transform="translate(318.00 154.60) scale(1.0 1.03) translate(-318.00 -154.60)" >2000</text>
<text x="384.00" y="154.60" font-size="11.5" text-anchor="middle" fill="#222" stroke="#222" stroke-width="0.22" font-weight="normal" font-style="normal" transform="translate(384.00 154.60) scale(1.0 1.03) translate(-384.00 -154.60)" >3000</text>
<text x="450.00" y="154.60" font-size="11.5" text-anchor="middle" fill="#222" stroke="#222" stroke-width="0.22" font-weight="normal" font-style="normal" transform="translate(450.00 154.60) scale(1.0 1.03) translate(-450.00 -154.60)" >4000</text>
<text x="327.80" y="171.40" font-size="18.5" text-anchor="middle" fill="#111" stroke="#111" stroke-width="0.22" font-weight="normal" font-style="italic" transform="translate(327.80 171.40) scale(1.0 1.0) translate(-327.80 -171.40)" >m/z</text>
<text x="309.80" y="18.90" font-size="10.8" text-anchor="middle" fill="#1a1a1a" stroke="#1a1a1a" stroke-width="0.22" font-weight="normal" font-style="normal" transform="translate(309.80 18.90) scale(1.0 1.03) translate(-309.80 -18.90)" >1a</text>
<line x1="304.00" y1="21.20" x2="297.46" y2="28.06" stroke="#111" stroke-width="1.5" />
<polygon points="295.80,29.80 299.50,28.28 297.14,26.03" fill="#111"/>
<text x="325.60" y="93.60" font-size="10" text-anchor="middle" fill="#222" stroke="#222" stroke-width="0.22" font-weight="normal" font-style="normal" transform="translate(325.60 93.60) scale(1.0 1.1) translate(-325.60 -93.60)" >1l-1q</text>
<line x1="315.70" y1="104.40" x2="322.55" y2="97.14" stroke="#111" stroke-width="1.5" />
<polygon points="324.20,95.40 320.51,96.94 322.88,99.18" fill="#111"/>
<text x="351.20" y="123.40" font-size="10.8" text-anchor="middle" fill="#1a1a1a" stroke="#1a1a1a" stroke-width="0.22" font-weight="normal" font-style="normal" transform="translate(351.20 123.40) scale(1.0 1.03) translate(-351.20 -123.40)" >1b</text>
<text x="434.00" y="125.80" font-size="10.8" text-anchor="middle" fill="#1a1a1a" stroke="#1a1a1a" stroke-width="0.22" font-weight="normal" font-style="normal" transform="translate(434.00 125.80) scale(1.0 1.03) translate(-434.00 -125.80)" >1c</text>
<line x1="354.20" y1="114.30" x2="362.01" y2="106.41" stroke="#111" stroke-width="1.5" />
<polygon points="363.70,104.70 359.97,106.15 362.29,108.44" fill="#111"/>
<text x="459.60" y="15.70" font-size="19" text-anchor="start" fill="#111" stroke="#111" stroke-width="0.22" font-weight="normal" font-style="normal" transform="translate(459.60 15.70) scale(1.0 1.0) translate(-459.60 -15.70)" >c</text>
<line x1="468.50" y1="46.40" x2="693.00" y2="46.40" stroke="#59636b" stroke-width="1.4" />
<line x1="556.50" y1="46.40" x2="556.50" y2="32.80" stroke="#333" stroke-width="1.3" />
<text x="689.50" y="42.40" font-size="9" text-anchor="end" fill="#222" stroke="#222" stroke-width="0.22" font-weight="normal" font-style="normal" transform="translate(689.50 42.40) scale(1.0 1.1) translate(-689.50 -42.40)" >0 eV</text>
<line x1="468.50" y1="64.10" x2="693.00" y2="64.10" stroke="#f0588e" stroke-width="1.4" />
<line x1="556.50" y1="64.10" x2="556.50" y2="48.40" stroke="#f0588e" stroke-width="1.3" />
<text x="689.50" y="60.10" font-size="9" text-anchor="end" fill="#222" stroke="#222" stroke-width="0.22" font-weight="normal" font-style="normal" transform="translate(689.50 60.10) scale(1.0 1.1) translate(-689.50 -60.10)" >3 eV</text>
<line x1="468.50" y1="81.70" x2="693.00" y2="81.70" stroke="#4d8fc9" stroke-width="1.4" />
<line x1="556.50" y1="81.70" x2="556.50" y2="66.10" stroke="#4d8fc9" stroke-width="1.3" />
<text x="689.50" y="77.70" font-size="9" text-anchor="end" fill="#222" stroke="#222" stroke-width="0.22" font-weight="normal" font-style="normal" transform="translate(689.50 77.70) scale(1.0 1.1) translate(-689.50 -77.70)" >6 eV</text>
<line x1="468.50" y1="99.10" x2="693.00" y2="99.10" stroke="#6fe57e" stroke-width="1.4" />
<line x1="556.50" y1="99.10" x2="556.50" y2="83.70" stroke="#6fe57e" stroke-width="1.3" />
<text x="689.50" y="95.10" font-size="9" text-anchor="end" fill="#222" stroke="#222" stroke-width="0.22" font-weight="normal" font-style="normal" transform="translate(689.50 95.10) scale(1.0 1.1) translate(-689.50 -95.10)" >9 eV</text>
<line x1="468.50" y1="116.80" x2="693.00" y2="116.80" stroke="#b48ef0" stroke-width="1.4" />
<line x1="556.50" y1="116.80" x2="556.50" y2="101.10" stroke="#b48ef0" stroke-width="1.3" />
<text x="689.50" y="112.80" font-size="9" text-anchor="end" fill="#222" stroke="#222" stroke-width="0.22" font-weight="normal" font-style="normal" transform="translate(689.50 112.80) scale(1.0 1.1) translate(-689.50 -112.80)" >12 eV</text>
<line x1="468.50" y1="134.00" x2="693.00" y2="134.00" stroke="#e9b44f" stroke-width="1.9" />
<line x1="556.50" y1="134.00" x2="556.50" y2="118.80" stroke="#e9b44f" stroke-width="1.3" />
<text x="689.50" y="130.00" font-size="9" text-anchor="end" fill="#222" stroke="#222" stroke-width="0.22" font-weight="normal" font-style="normal" transform="translate(689.50 130.00) scale(1.0 1.1) translate(-689.50 -130.00)" >15 eV</text>
<line x1="596.40" y1="46.40" x2="596.40" y2="33.50" stroke="#333" stroke-width="1.3" />
<line x1="596.40" y1="64.10" x2="596.40" y2="57.10" stroke="#f0588e" stroke-width="1.3" />
<line x1="596.40" y1="81.70" x2="596.40" y2="79.50" stroke="#4d8fc9" stroke-width="1.2" />
<line x1="603.00" y1="46.40" x2="615.00" y2="46.40" stroke="#e0909a" stroke-width="0.8" />
<line x1="468.50" y1="137.10" x2="692.00" y2="137.10" stroke="#333" stroke-width="1.4" />
<line x1="468.60" y1="137.10" x2="468.60" y2="142.00" stroke="#333" stroke-width="1.3" />
<line x1="500.50" y1="137.10" x2="500.50" y2="142.00" stroke="#333" stroke-width="1.3" />
<line x1="532.40" y1="137.10" x2="532.40" y2="140.00" stroke="#333" stroke-width="1.3" />
<line x1="564.30" y1="137.10" x2="564.30" y2="142.00" stroke="#333" stroke-width="1.3" />
<line x1="596.20" y1="137.10" x2="596.20" y2="140.00" stroke="#333" stroke-width="1.3" />
<line x1="628.10" y1="137.10" x2="628.10" y2="142.00" stroke="#333" stroke-width="1.3" />
<line x1="660.00" y1="137.10" x2="660.00" y2="140.00" stroke="#333" stroke-width="1.3" />
<line x1="691.90" y1="137.10" x2="691.90" y2="142.00" stroke="#333" stroke-width="1.3" />
<text x="500.50" y="154.50" font-size="11.5" text-anchor="middle" fill="#222" stroke="#222" stroke-width="0.22" font-weight="normal" font-style="normal" transform="translate(500.50 154.50) scale(1.0 1.03) translate(-500.50 -154.50)" >1000</text>
<text x="564.35" y="154.50" font-size="11.5" text-anchor="middle" fill="#222" stroke="#222" stroke-width="0.22" font-weight="normal" font-style="normal" transform="translate(564.35 154.50) scale(1.0 1.03) translate(-564.35 -154.50)" >2000</text>
<text x="628.20" y="154.50" font-size="11.5" text-anchor="middle" fill="#222" stroke="#222" stroke-width="0.22" font-weight="normal" font-style="normal" transform="translate(628.20 154.50) scale(1.0 1.03) translate(-628.20 -154.50)" >3000</text>
<text x="692.05" y="154.50" font-size="11.5" text-anchor="middle" fill="#222" stroke="#222" stroke-width="0.22" font-weight="normal" font-style="normal" transform="translate(692.05 154.50) scale(1.0 1.03) translate(-692.05 -154.50)" >4000</text>
<text x="580.80" y="171.80" font-size="18.5" text-anchor="middle" fill="#111" stroke="#111" stroke-width="0.22" font-weight="normal" font-style="italic" transform="translate(580.80 171.80) scale(1.0 1.0) translate(-580.80 -171.80)" >m/z</text>
<text x="555.10" y="28.60" font-size="10.5" text-anchor="middle" fill="#222" stroke="#222" stroke-width="0.22" font-weight="normal" font-style="normal" transform="translate(555.10 28.60) scale(1.0 1.1) translate(-555.10 -28.60)" >1a</text>
<text x="594.70" y="18.60" font-size="10.5" text-anchor="middle" fill="#222" stroke="#222" stroke-width="0.22" font-weight="normal" font-style="normal" transform="translate(594.70 18.60) scale(1.0 1.1) translate(-594.70 -18.60)" >1b</text>
<polygon points="596.20,21.20 598.14,25.53 602.86,26.04 599.34,29.22 600.31,33.86 596.20,31.50 592.09,33.86 593.06,29.22 589.54,26.04 594.26,25.53" fill="#d81c4c" stroke="#e8a050" stroke-width="0.4"/>
<text x="204.60" y="187.30" font-size="18.5" text-anchor="start" fill="#111" stroke="#111" stroke-width="0.22" font-weight="normal" font-style="normal" transform="translate(204.60 187.30) scale(1.0 1.0) translate(-204.60 -187.30)" >d</text>
<rect x="241.6" y="176.5" width="192.6" height="154.4" fill="none" stroke="#505050" stroke-width="1.4"/>
<line x1="241.60" y1="328.40" x2="236.10" y2="328.40" stroke="#444" stroke-width="1.3" />
<line x1="241.60" y1="313.50" x2="238.40" y2="313.50" stroke="#444" stroke-width="1.3" />
<line x1="241.60" y1="298.60" x2="236.10" y2="298.60" stroke="#444" stroke-width="1.3" />
<line x1="241.60" y1="283.70" x2="238.40" y2="283.70" stroke="#444" stroke-width="1.3" />
<line x1="241.60" y1="268.80" x2="236.10" y2="268.80" stroke="#444" stroke-width="1.3" />
<line x1="241.60" y1="253.90" x2="238.40" y2="253.90" stroke="#444" stroke-width="1.3" />
<line x1="241.60" y1="239.00" x2="236.10" y2="239.00" stroke="#444" stroke-width="1.3" />
<line x1="241.60" y1="224.10" x2="238.40" y2="224.10" stroke="#444" stroke-width="1.3" />
<line x1="241.60" y1="209.20" x2="236.10" y2="209.20" stroke="#444" stroke-width="1.3" />
<line x1="241.60" y1="194.30" x2="238.40" y2="194.30" stroke="#444" stroke-width="1.3" />
<line x1="241.60" y1="179.40" x2="236.10" y2="179.40" stroke="#444" stroke-width="1.3" />
<text x="232.00" y="332.10" font-size="10.5" text-anchor="end" fill="#222" stroke="#222" stroke-width="0.22" font-weight="normal" font-style="normal" transform="translate(232.00 332.10) scale(1.0 1.0) translate(-232.00 -332.10)" >0.0</text>
<text x="232.00" y="302.30" font-size="10.5" text-anchor="end" fill="#222" stroke="#222" stroke-width="0.22" font-weight="normal" font-style="normal" transform="translate(232.00 302.30) scale(1.0 1.0) translate(-232.00 -302.30)" >0.2</text>
<text x="232.00" y="272.50" font-size="10.5" text-anchor="end" fill="#222" stroke="#222" stroke-width="0.22" font-weight="normal" font-style="normal" transform="translate(232.00 272.50) scale(1.0 1.0) translate(-232.00 -272.50)" >0.4</text>
<text x="232.00" y="242.70" font-size="10.5" text-anchor="end" fill="#222" stroke="#222" stroke-width="0.22" font-weight="normal" font-style="normal" transform="translate(232.00 242.70) scale(1.0 1.0) translate(-232.00 -242.70)" >0.6</text>
<text x="232.00" y="212.90" font-size="10.5" text-anchor="end" fill="#222" stroke="#222" stroke-width="0.22" font-weight="normal" font-style="normal" transform="translate(232.00 212.90) scale(1.0 1.0) translate(-232.00 -212.90)" >0.8</text>
<text x="232.00" y="183.10" font-size="10.5" text-anchor="end" fill="#222" stroke="#222" stroke-width="0.22" font-weight="normal" font-style="normal" transform="translate(232.00 183.10) scale(1.0 1.0) translate(-232.00 -183.10)" >1.0</text>
<line x1="247.60" y1="330.90" x2="247.60" y2="336.40" stroke="#444" stroke-width="1.3" />
<line x1="265.68" y1="330.90" x2="265.68" y2="334.10" stroke="#444" stroke-width="1.3" />
<line x1="283.76" y1="330.90" x2="283.76" y2="336.40" stroke="#444" stroke-width="1.3" />
<line x1="301.84" y1="330.90" x2="301.84" y2="334.10" stroke="#444" stroke-width="1.3" />
<line x1="319.92" y1="330.90" x2="319.92" y2="336.40" stroke="#444" stroke-width="1.3" />
<line x1="338.00" y1="330.90" x2="338.00" y2="334.10" stroke="#444" stroke-width="1.3" />
<line x1="356.08" y1="330.90" x2="356.08" y2="336.40" stroke="#444" stroke-width="1.3" />
<line x1="374.16" y1="330.90" x2="374.16" y2="334.10" stroke="#444" stroke-width="1.3" />
<line x1="392.24" y1="330.90" x2="392.24" y2="336.40" stroke="#444" stroke-width="1.3" />
<line x1="410.32" y1="330.90" x2="410.32" y2="334.10" stroke="#444" stroke-width="1.3" />
<line x1="428.40" y1="330.90" x2="428.40" y2="336.40" stroke="#444" stroke-width="1.3" />
<text x="247.60" y="349.40" font-size="11" text-anchor="middle" fill="#222" stroke="#222" stroke-width="0.22" font-weight="normal" font-style="normal" transform="translate(247.60 349.40) scale(1.0 1.0) translate(-247.60 -349.40)" >0</text>
<text x="283.76" y="349.40" font-size="11" text-anchor="middle" fill="#222" stroke="#222" stroke-width="0.22" font-weight="normal" font-style="normal" transform="translate(283.76 349.40) scale(1.0 1.0) translate(-283.76 -349.40)" >3</text>
<text x="319.92" y="349.40" font-size="11" text-anchor="middle" fill="#222" stroke="#222" stroke-width="0.22" font-weight="normal" font-style="normal" transform="translate(319.92 349.40) scale(1.0 1.0) translate(-319.92 -349.40)" >6</text>
<text x="356.08" y="349.40" font-size="11" text-anchor="middle" fill="#222" stroke="#222" stroke-width="0.22" font-weight="normal" font-style="normal" transform="translate(356.08 349.40) scale(1.0 1.0) translate(-356.08 -349.40)" >9</text>
<text x="392.24" y="349.40" font-size="11" text-anchor="middle" fill="#222" stroke="#222" stroke-width="0.22" font-weight="normal" font-style="normal" transform="translate(392.24 349.40) scale(1.0 1.0) translate(-392.24 -349.40)" >12</text>
<text x="428.40" y="349.40" font-size="11" text-anchor="middle" fill="#222" stroke="#222" stroke-width="0.22" font-weight="normal" font-style="normal" transform="translate(428.40 349.40) scale(1.0 1.0) translate(-428.40 -349.40)" >15</text>
<text x="338.00" y="363.00" font-size="13" text-anchor="middle" fill="#222" stroke="#222" stroke-width="0.22" font-weight="normal" font-style="normal" transform="translate(338.00 363.00) scale(1.0 1.1) translate(-338.00 -363.00)" >Collision Energy (eV)</text>
<text x="211.60" y="253.60" font-size="13" text-anchor="middle" fill="#222" stroke="#222" stroke-width="0.22" font-weight="normal" font-style="normal"  transform="translate(211.6 253.6) rotate(-90) scale(1 1.08) translate(-211.6 -253.6)">Relative Intensity</text>
<polyline points="247.60,262.84 283.76,220.38 319.92,195.04 356.08,184.62 392.24,180.15 428.40,179.40" fill="none" stroke="#72e8c0" stroke-width="0.95"/>
<polyline points="247.60,244.96 283.76,287.42 319.92,312.75 356.08,323.19 392.24,327.65 428.40,328.40" fill="none" stroke="#f0609a" stroke-width="0.95"/>
<polygon points="247.60,258.84 248.72,261.30 251.40,261.60 249.41,263.43 249.95,266.08 247.60,264.74 245.25,266.08 245.79,263.43 243.80,261.60 246.48,261.30" fill="#72e8c0" stroke="none" stroke-width="0"/>
<polygon points="283.76,216.38 284.88,218.84 287.56,219.14 285.57,220.96 286.11,223.61 283.76,222.28 281.41,223.61 281.95,220.96 279.96,219.14 282.64,218.84" fill="#72e8c0" stroke="none" stroke-width="0"/>
<polygon points="319.92,191.04 321.04,193.51 323.72,193.81 321.73,195.63 322.27,198.28 319.92,196.94 317.57,198.28 318.11,195.63 316.12,193.81 318.80,193.51" fill="#72e8c0" stroke="none" stroke-width="0"/>
<polygon points="356.08,180.62 357.20,183.08 359.88,183.38 357.89,185.20 358.43,187.85 356.08,186.52 353.73,187.85 354.27,185.20 352.28,183.38 354.96,183.08" fill="#72e8c0" stroke="none" stroke-width="0"/>
<polygon points="392.24,176.15 393.36,178.61 396.04,178.91 394.05,180.73 394.59,183.38 392.24,182.05 389.89,183.38 390.43,180.73 388.44,178.91 391.12,178.61" fill="#72e8c0" stroke="none" stroke-width="0"/>
<polygon points="428.40,175.40 429.52,177.86 432.20,178.16 430.21,179.99 430.75,182.64 428.40,181.30 426.05,182.64 426.59,179.99 424.60,178.16 427.28,177.86" fill="#72e8c0" stroke="none" stroke-width="0"/>
<polygon points="247.60,240.96 248.72,243.42 251.40,243.72 249.41,245.55 249.95,248.20 247.60,246.86 245.25,248.20 245.79,245.55 243.80,243.72 246.48,243.42" fill="#f04c88" stroke="none" stroke-width="0"/>
<polygon points="283.76,283.42 284.88,285.89 287.56,286.19 285.57,288.01 286.11,290.66 283.76,289.32 281.41,290.66 281.95,288.01 279.96,286.19 282.64,285.89" fill="#f04c88" stroke="none" stroke-width="0"/>
<polygon points="319.92,308.75 321.04,311.22 323.72,311.52 321.73,313.34 322.27,315.99 319.92,314.65 317.57,315.99 318.11,313.34 316.12,311.52 318.80,311.22" fill="#f04c88" stroke="none" stroke-width="0"/>
<polygon points="356.08,319.19 357.20,321.65 359.88,321.95 357.89,323.77 358.43,326.42 356.08,325.08 353.73,326.42 354.27,323.77 352.28,321.95 354.96,321.65" fill="#f04c88" stroke="none" stroke-width="0"/>
<polygon points="392.24,323.65 393.36,326.12 396.04,326.42 394.05,328.24 394.59,330.89 392.24,329.55 389.89,330.89 390.43,328.24 388.44,326.42 391.12,326.12" fill="#f04c88" stroke="none" stroke-width="0"/>
<polygon points="428.40,324.40 429.52,326.86 432.20,327.16 430.21,328.99 430.75,331.64 428.40,330.30 426.05,331.64 426.59,328.99 424.60,327.16 427.28,326.86" fill="#f04c88" stroke="none" stroke-width="0"/>
<line x1="250.80" y1="189.30" x2="269.30" y2="189.30" stroke="#72e8c0" stroke-width="0.9" />
<polygon points="260.40,185.70 261.46,188.04 264.01,188.33 262.11,190.06 262.63,192.57 260.40,191.30 258.17,192.57 258.69,190.06 256.79,188.33 259.34,188.04" fill="#72e8c0" stroke="none" stroke-width="0"/>
<line x1="250.80" y1="200.30" x2="269.30" y2="200.30" stroke="#f0609a" stroke-width="0.9" />
<polygon points="260.40,196.70 261.46,199.04 264.01,199.33 262.11,201.06 262.63,203.57 260.40,202.30 258.17,203.57 258.69,201.06 256.79,199.33 259.34,199.04" fill="#f04c88" stroke="none" stroke-width="0"/>
<text x="271.80" y="192.60" font-size="9.3" text-anchor="start" fill="#111" stroke="#111" stroke-width="0.22" font-weight="bold" font-style="normal" transform="translate(271.80 192.60) scale(1.0 1.1) translate(-271.80 -192.60)" >1a</text>
<text x="271.80" y="203.60" font-size="9.3" text-anchor="start" fill="#111" stroke="#111" stroke-width="0.22" font-weight="bold" font-style="normal" transform="translate(271.80 203.60) scale(1.0 1.1) translate(-271.80 -203.60)" >1b</text>
<text x="460.60" y="187.20" font-size="18.5" text-anchor="start" fill="#111" stroke="#111" stroke-width="0.22" font-weight="normal" font-style="normal" transform="translate(460.60 187.20) scale(1.0 1.0) translate(-460.60 -187.20)" >e</text>
<line x1="486.20" y1="196.00" x2="486.20" y2="330.00" stroke="#a0aec8" stroke-width="1.1" stroke-dasharray="1.8,1.6"/>
<line x1="508.90" y1="196.00" x2="508.90" y2="330.00" stroke="#a0aec8" stroke-width="1.1" stroke-dasharray="1.8,1.6"/>
<line x1="531.90" y1="196.00" x2="531.90" y2="330.00" stroke="#a0aec8" stroke-width="1.1" stroke-dasharray="1.8,1.6"/>
<line x1="548.40" y1="196.00" x2="548.40" y2="330.00" stroke="#a0aec8" stroke-width="1.1" stroke-dasharray="1.8,1.6"/>
<line x1="550.50" y1="196.00" x2="550.50" y2="330.00" stroke="#a0aec8" stroke-width="1.1" stroke-dasharray="1.8,1.6"/>
<line x1="585.60" y1="196.00" x2="585.60" y2="330.00" stroke="#a0aec8" stroke-width="1.1" stroke-dasharray="1.8,1.6"/>
<line x1="601.00" y1="196.00" x2="601.00" y2="330.00" stroke="#a0aec8" stroke-width="1.1" stroke-dasharray="1.8,1.6"/>
<line x1="624.20" y1="196.00" x2="624.20" y2="330.00" stroke="#a0aec8" stroke-width="1.1" stroke-dasharray="1.8,1.6"/>
<line x1="464.50" y1="204.00" x2="693.80" y2="204.00" stroke="#e6de3a" stroke-width="1.6" />
<text x="691.30" y="202.50" font-size="8.5" text-anchor="end" fill="#1a1a1a" stroke="#1a1a1a" stroke-width="0.22" font-weight="normal" font-style="normal" transform="translate(691.30 202.50) scale(1.0 1.1) translate(-691.30 -202.50)" >0 eV</text>
<line x1="464.50" y1="215.09" x2="693.80" y2="215.09" stroke="#e6de3a" stroke-width="1.6" />
<text x="691.30" y="213.59" font-size="8.5" text-anchor="end" fill="#1a1a1a" stroke="#1a1a1a" stroke-width="0.22" font-weight="normal" font-style="normal" transform="translate(691.30 213.59) scale(1.0 1.1) translate(-691.30 -213.59)" >5 eV</text>
<line x1="464.50" y1="226.18" x2="693.80" y2="226.18" stroke="#3f51b5" stroke-width="1.6" />
<text x="691.30" y="224.68" font-size="8.5" text-anchor="end" fill="#1a1a1a" stroke="#1a1a1a" stroke-width="0.22" font-weight="normal" font-style="normal" transform="translate(691.30 224.68) scale(1.0 1.1) translate(-691.30 -224.68)" >10 eV</text>
<line x1="464.50" y1="237.27" x2="693.80" y2="237.27" stroke="#7088e8" stroke-width="1.6" />
<text x="691.30" y="235.77" font-size="8.5" text-anchor="end" fill="#1a1a1a" stroke="#1a1a1a" stroke-width="0.22" font-weight="normal" font-style="normal" transform="translate(691.30 235.77) scale(1.0 1.1) translate(-691.30 -235.77)" >15 eV</text>
<line x1="464.50" y1="248.36" x2="693.80" y2="248.36" stroke="#e8743c" stroke-width="1.6" />
<text x="691.30" y="246.86" font-size="8.5" text-anchor="end" fill="#1a1a1a" stroke="#1a1a1a" stroke-width="0.22" font-weight="normal" font-style="normal" transform="translate(691.30 246.86) scale(1.0 1.1) translate(-691.30 -246.86)" >20 eV</text>
<line x1="464.50" y1="259.45" x2="693.80" y2="259.45" stroke="#f08a48" stroke-width="1.6" />
<text x="691.30" y="257.95" font-size="8.5" text-anchor="end" fill="#1a1a1a" stroke="#1a1a1a" stroke-width="0.22" font-weight="normal" font-style="normal" transform="translate(691.30 257.95) scale(1.0 1.1) translate(-691.30 -257.95)" >25 eV</text>
<line x1="464.50" y1="270.54" x2="693.80" y2="270.54" stroke="#2ea84e" stroke-width="1.6" />
<text x="691.30" y="269.04" font-size="8.5" text-anchor="end" fill="#1a1a1a" stroke="#1a1a1a" stroke-width="0.22" font-weight="normal" font-style="normal" transform="translate(691.30 269.04) scale(1.0 1.1) translate(-691.30 -269.04)" >30 eV</text>
<line x1="464.50" y1="281.63" x2="693.80" y2="281.63" stroke="#92e862" stroke-width="1.6" />
<text x="691.30" y="280.13" font-size="8.5" text-anchor="end" fill="#1a1a1a" stroke="#1a1a1a" stroke-width="0.22" font-weight="normal" font-style="normal" transform="translate(691.30 280.13) scale(1.0 1.1) translate(-691.30 -280.13)" >35 eV</text>
<line x1="464.50" y1="292.72" x2="693.80" y2="292.72" stroke="#c41e5c" stroke-width="1.6" />
<text x="691.30" y="291.22" font-size="8.5" text-anchor="end" fill="#1a1a1a" stroke="#1a1a1a" stroke-width="0.22" font-weight="normal" font-style="normal" transform="translate(691.30 291.22) scale(1.0 1.1) translate(-691.30 -291.22)" >40 eV</text>
<line x1="464.50" y1="303.81" x2="693.80" y2="303.81" stroke="#e444b8" stroke-width="1.6" />
<text x="691.30" y="302.31" font-size="8.5" text-anchor="end" fill="#1a1a1a" stroke="#1a1a1a" stroke-width="0.22" font-weight="normal" font-style="normal" transform="translate(691.30 302.31) scale(1.0 1.1) translate(-691.30 -302.31)" >45 eV</text>
<line x1="464.50" y1="314.90" x2="693.80" y2="314.90" stroke="#3f9c9c" stroke-width="1.6" />
<text x="691.30" y="313.40" font-size="8.5" text-anchor="end" fill="#1a1a1a" stroke="#1a1a1a" stroke-width="0.22" font-weight="normal" font-style="normal" transform="translate(691.30 313.40) scale(1.0 1.1) translate(-691.30 -313.40)" >50 eV</text>
<line x1="464.50" y1="325.99" x2="693.80" y2="325.99" stroke="#60e8d6" stroke-width="1.6" />
<text x="691.30" y="324.49" font-size="8.5" text-anchor="end" fill="#1a1a1a" stroke="#1a1a1a" stroke-width="0.22" font-weight="normal" font-style="normal" transform="translate(691.30 324.49) scale(1.0 1.1) translate(-691.30 -324.49)" >55 eV</text>
<line x1="554.80" y1="195.50" x2="554.80" y2="204.00" stroke="#e6de3a" stroke-width="1.6" />
<line x1="554.80" y1="215.09" x2="554.80" y2="205.00" stroke="#e6de3a" stroke-width="1.4" />
<line x1="554.80" y1="226.18" x2="554.80" y2="216.09" stroke="#3f51b5" stroke-width="1.4" />
<line x1="554.80" y1="237.27" x2="554.80" y2="227.18" stroke="#7088e8" stroke-width="1.4" />
<line x1="554.80" y1="248.36" x2="554.80" y2="238.27" stroke="#e8743c" stroke-width="1.4" />
<line x1="554.80" y1="259.45" x2="554.80" y2="249.36" stroke="#f08a48" stroke-width="1.4" />
<line x1="554.80" y1="270.54" x2="554.80" y2="261.04" stroke="#2ea84e" stroke-width="1.4" />
<line x1="554.80" y1="281.63" x2="554.80" y2="276.63" stroke="#92e862" stroke-width="1.3" />
<line x1="548.60" y1="270.54" x2="548.60" y2="264.04" stroke="#2ea84e" stroke-width="1.4" />
<line x1="548.60" y1="281.63" x2="548.60" y2="273.63" stroke="#92e862" stroke-width="1.4" />
<line x1="548.60" y1="292.72" x2="548.60" y2="281.72" stroke="#c41e5c" stroke-width="1.4" />
<line x1="548.60" y1="303.81" x2="548.60" y2="295.81" stroke="#e444b8" stroke-width="1.4" />
<line x1="548.60" y1="314.90" x2="548.60" y2="305.90" stroke="#3f9c9c" stroke-width="1.4" />
<line x1="548.60" y1="325.99" x2="548.60" y2="321.99" stroke="#60e8d6" stroke-width="1.4" />
<line x1="485.90" y1="281.63" x2="485.90" y2="278.23" stroke="#92e862" stroke-width="1.4" />
<line x1="508.70" y1="281.63" x2="508.70" y2="278.23" stroke="#92e862" stroke-width="1.4" />
<line x1="485.90" y1="292.72" x2="485.90" y2="287.72" stroke="#c41e5c" stroke-width="1.4" />
<line x1="508.70" y1="292.72" x2="508.70" y2="287.72" stroke="#c41e5c" stroke-width="1.4" />
<line x1="485.90" y1="303.81" x2="485.90" y2="294.81" stroke="#e444b8" stroke-width="1.4" />
<line x1="508.70" y1="303.81" x2="508.70" y2="294.81" stroke="#e444b8" stroke-width="1.4" />
<line x1="485.90" y1="314.90" x2="485.90" y2="304.90" stroke="#3f9c9c" stroke-width="1.4" />
<line x1="508.70" y1="314.90" x2="508.70" y2="304.90" stroke="#3f9c9c" stroke-width="1.4" />
<line x1="485.90" y1="325.99" x2="485.90" y2="315.99" stroke="#60e8d6" stroke-width="1.4" />
<line x1="508.70" y1="325.99" x2="508.70" y2="315.99" stroke="#60e8d6" stroke-width="1.4" />
<line x1="464.70" y1="331.00" x2="693.70" y2="331.00" stroke="#2a2e40" stroke-width="1.6" />
<line x1="465.00" y1="331.00" x2="465.00" y2="336.00" stroke="#333" stroke-width="1.3" />
<line x1="497.65" y1="331.00" x2="497.65" y2="336.00" stroke="#333" stroke-width="1.3" />
<line x1="530.30" y1="331.00" x2="530.30" y2="334.00" stroke="#333" stroke-width="1.3" />
<line x1="562.95" y1="331.00" x2="562.95" y2="336.00" stroke="#333" stroke-width="1.3" />
<line x1="595.60" y1="331.00" x2="595.60" y2="334.00" stroke="#333" stroke-width="1.3" />
<line x1="628.25" y1="331.00" x2="628.25" y2="336.00" stroke="#333" stroke-width="1.3" />
<line x1="660.90" y1="331.00" x2="660.90" y2="334.00" stroke="#333" stroke-width="1.3" />
<line x1="693.55" y1="331.00" x2="693.55" y2="336.00" stroke="#333" stroke-width="1.3" />
<text x="497.60" y="349.60" font-size="11.5" text-anchor="middle" fill="#222" stroke="#222" stroke-width="0.22" font-weight="normal" font-style="normal" transform="translate(497.60 349.60) scale(1.0 1.03) translate(-497.60 -349.60)" >1000</text>
<text x="562.90" y="349.60" font-size="11.5" text-anchor="middle" fill="#222" stroke="#222" stroke-width="0.22" font-weight="normal" font-style="normal" transform="translate(562.90 349.60) scale(1.0 1.03) translate(-562.90 -349.60)" >2000</text>
<text x="628.20" y="349.60" font-size="11.5" text-anchor="middle" fill="#222" stroke="#222" stroke-width="0.22" font-weight="normal" font-style="normal" transform="translate(628.20 349.60) scale(1.0 1.03) translate(-628.20 -349.60)" >3000</text>
<text x="693.50" y="349.60" font-size="11.5" text-anchor="middle" fill="#222" stroke="#222" stroke-width="0.22" font-weight="normal" font-style="normal" transform="translate(693.50 349.60) scale(1.0 1.03) translate(-693.50 -349.60)" >4000</text>
<text x="581.50" y="367.00" font-size="18.5" text-anchor="middle" fill="#111" stroke="#111" stroke-width="0.22" font-weight="normal" font-style="italic" transform="translate(581.50 367.00) scale(1.0 1.0) translate(-581.50 -367.00)" >m/z</text>
<text x="484.80" y="193.20" font-size="10" text-anchor="middle" fill="#222" stroke="#222" stroke-width="0.22" font-weight="normal" font-style="normal" transform="translate(484.80 193.20) scale(1.0 1.1) translate(-484.80 -193.20)" >1d</text>
<text x="507.80" y="193.20" font-size="10" text-anchor="middle" fill="#222" stroke="#222" stroke-width="0.22" font-weight="normal" font-style="normal" transform="translate(507.80 193.20) scale(1.0 1.1) translate(-507.80 -193.20)" >1e</text>
<text x="529.70" y="191.30" font-size="10" text-anchor="middle" fill="#222" stroke="#222" stroke-width="0.22" font-weight="normal" font-style="normal" transform="translate(529.70 191.30) scale(1.0 1.1) translate(-529.70 -191.30)" >1f</text>
<text x="584.90" y="190.70" font-size="10" text-anchor="middle" fill="#222" stroke="#222" stroke-width="0.22" font-weight="normal" font-style="normal" transform="translate(584.90 190.70) scale(1.0 1.1) translate(-584.90 -190.70)" >1i</text>
<text x="599.00" y="190.70" font-size="10" text-anchor="middle" fill="#222" stroke="#222" stroke-width="0.22" font-weight="normal" font-style="normal" transform="translate(599.00 190.70) scale(1.0 1.1) translate(-599.00 -190.70)" >1j</text>
<text x="624.20" y="190.70" font-size="10" text-anchor="middle" fill="#222" stroke="#222" stroke-width="0.22" font-weight="normal" font-style="normal" transform="translate(624.20 190.70) scale(1.0 1.1) translate(-624.20 -190.70)" >1k</text>
<text x="537.10" y="179.70" font-size="10" text-anchor="middle" fill="#222" stroke="#222" stroke-width="0.22" font-weight="normal" font-style="normal" transform="translate(537.10 179.70) scale(1.0 1.1) translate(-537.10 -179.70)" >1g1h</text>
<text x="555.60" y="181.60" font-size="10" text-anchor="middle" fill="#222" stroke="#222" stroke-width="0.22" font-weight="normal" font-style="normal" transform="translate(555.60 181.60) scale(1.0 1.1) translate(-555.60 -181.60)" >1a</text>
<line x1="550.40" y1="193.50" x2="538.33" y2="185.19" stroke="#111" stroke-width="1.1" />
<polygon points="536.60,184.00 538.42,186.99 540.04,184.64" fill="#111"/>
<line x1="550.40" y1="193.50" x2="546.47" y2="184.91" stroke="#111" stroke-width="1.1" />
<polygon points="545.60,183.00 545.63,186.50 548.23,185.31" fill="#111"/>
<polygon points="555.10,184.10 556.86,188.07 561.19,188.52 557.95,191.43 558.86,195.68 555.10,193.50 551.34,195.68 552.25,191.43 549.01,188.52 553.34,188.07" fill="#d81c4c" stroke="#e8b050" stroke-width="0.4"/>
</svg></body></html>
